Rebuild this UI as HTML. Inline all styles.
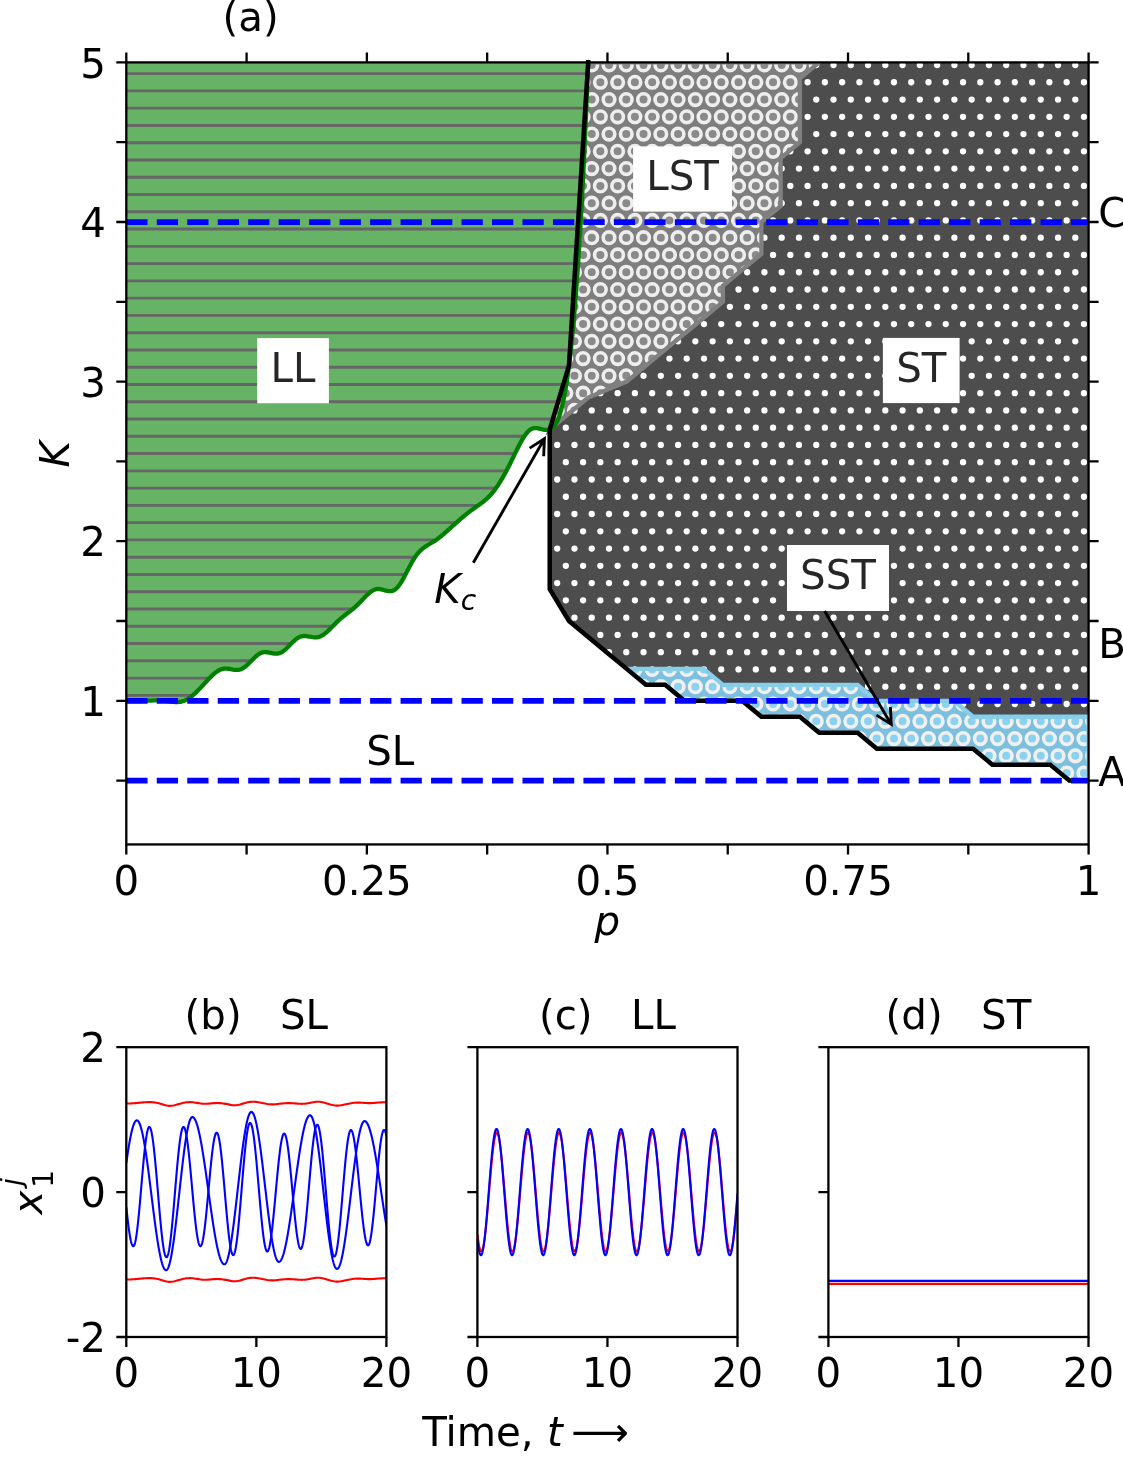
<!DOCTYPE html>
<html><head><meta charset="utf-8"><title>Phase diagram</title>
<style>html,body{margin:0;padding:0;background:#fff}svg{display:block}text{font-family:"DejaVu Sans","Liberation Sans",sans-serif;font-size:40.3px;fill:#000}.i{font-style:italic}.lab{fill:#262626}</style></head><body>
<svg width="1123" height="1465" viewBox="0 0 1123 1465">
<rect width="1123" height="1465" fill="#fff"/>
<defs>
<clipPath id="cLL"><path d="M126.3 62.4 L588.2 62.4 L568.96 365.64 L549.71 429.48 L548.43 429.82 L547.14 429.96 L545.85 429.94 L544.56 429.79 L543.28 429.54 L541.99 429.24 L540.7 428.91 L539.42 428.59 L538.13 428.32 L536.84 428.12 L535.56 428.04 L534.27 428.1 L532.98 428.35 L531.69 428.81 L530.41 429.52 L529.12 430.5 L527.83 431.75 L526.55 433.23 L525.26 434.94 L523.97 436.83 L522.69 438.9 L521.4 441.12 L520.11 443.46 L518.82 445.92 L517.54 448.45 L516.25 451.05 L514.96 453.69 L513.68 456.35 L512.39 459.01 L511.1 461.64 L509.82 464.22 L508.53 466.76 L507.24 469.24 L505.96 471.67 L504.67 474.04 L503.38 476.34 L502.09 478.57 L500.81 480.73 L499.52 482.82 L498.23 484.82 L496.95 486.75 L495.66 488.58 L494.37 490.32 L493.09 491.97 L491.8 493.53 L490.51 494.98 L489.22 496.34 L487.94 497.61 L486.65 498.82 L485.36 499.95 L484.08 501.02 L482.79 502.05 L481.5 503.03 L480.22 503.98 L478.93 504.91 L477.64 505.82 L476.35 506.72 L475.07 507.62 L473.78 508.52 L472.49 509.45 L471.21 510.4 L469.92 511.37 L468.63 512.36 L467.35 513.37 L466.06 514.4 L464.77 515.45 L463.49 516.51 L462.2 517.6 L460.91 518.69 L459.62 519.8 L458.34 520.92 L457.05 522.05 L455.76 523.19 L454.48 524.35 L453.19 525.5 L451.9 526.67 L450.62 527.84 L449.33 529 L448.04 530.16 L446.75 531.31 L445.47 532.45 L444.18 533.56 L442.89 534.66 L441.61 535.73 L440.32 536.78 L439.03 537.79 L437.75 538.76 L436.46 539.7 L435.17 540.58 L433.89 541.42 L432.6 542.22 L431.31 542.98 L430.02 543.73 L428.74 544.49 L427.45 545.26 L426.16 546.07 L424.88 546.94 L423.59 547.87 L422.3 548.9 L421.02 550.02 L419.73 551.27 L418.44 552.65 L417.15 554.18 L415.87 555.89 L414.58 557.78 L413.29 559.86 L412.01 562.09 L410.72 564.44 L409.43 566.88 L408.15 569.36 L406.86 571.86 L405.57 574.35 L404.28 576.78 L403 579.12 L401.71 581.34 L400.42 583.41 L399.14 585.29 L397.85 586.95 L396.56 588.34 L395.28 589.45 L393.99 590.25 L392.7 590.79 L391.42 591.1 L390.13 591.2 L388.84 591.15 L387.55 590.96 L386.27 590.69 L384.98 590.35 L383.69 589.98 L382.41 589.63 L381.12 589.31 L379.83 589.08 L378.55 588.96 L377.26 588.98 L375.97 589.19 L374.68 589.59 L373.4 590.16 L372.11 590.9 L370.82 591.77 L369.54 592.77 L368.25 593.88 L366.96 595.07 L365.68 596.33 L364.39 597.64 L363.1 598.99 L361.81 600.35 L360.53 601.71 L359.24 603.05 L357.95 604.35 L356.67 605.6 L355.38 606.79 L354.09 607.92 L352.81 609.01 L351.52 610.06 L350.23 611.08 L348.95 612.09 L347.66 613.08 L346.37 614.07 L345.08 615.06 L343.8 616.07 L342.51 617.1 L341.22 618.16 L339.94 619.26 L338.65 620.41 L337.36 621.61 L336.08 622.86 L334.79 624.15 L333.5 625.46 L332.21 626.77 L330.93 628.07 L329.64 629.35 L328.35 630.59 L327.07 631.77 L325.78 632.88 L324.49 633.89 L323.21 634.81 L321.92 635.61 L320.63 636.27 L319.34 636.78 L318.06 637.13 L316.77 637.32 L315.48 637.37 L314.2 637.32 L312.91 637.18 L311.62 636.99 L310.34 636.76 L309.05 636.52 L307.76 636.3 L306.48 636.12 L305.19 636.01 L303.9 635.99 L302.61 636.09 L301.33 636.33 L300.04 636.74 L298.75 637.34 L297.47 638.12 L296.18 639.06 L294.89 640.14 L293.61 641.32 L292.32 642.57 L291.03 643.87 L289.74 645.19 L288.46 646.51 L287.17 647.79 L285.88 649.01 L284.6 650.14 L283.31 651.15 L282.02 652.02 L280.74 652.72 L279.45 653.21 L278.16 653.52 L276.88 653.66 L275.59 653.67 L274.3 653.56 L273.01 653.38 L271.73 653.15 L270.44 652.89 L269.15 652.63 L267.87 652.41 L266.58 652.25 L265.29 652.18 L264.01 652.22 L262.72 652.41 L261.43 652.76 L260.14 653.32 L258.86 654.07 L257.57 654.98 L256.28 656.03 L255 657.18 L253.71 658.42 L252.42 659.71 L251.14 661.03 L249.85 662.35 L248.56 663.64 L247.27 664.87 L245.99 666.02 L244.7 667.07 L243.41 667.97 L242.13 668.71 L240.84 669.26 L239.55 669.63 L238.27 669.84 L236.98 669.92 L235.69 669.89 L234.41 669.77 L233.12 669.59 L231.83 669.37 L230.54 669.14 L229.26 668.92 L227.97 668.74 L226.68 668.61 L225.4 668.56 L224.11 668.62 L222.82 668.82 L221.54 669.16 L220.25 669.65 L218.96 670.29 L217.67 671.05 L216.39 671.93 L215.1 672.91 L213.81 673.99 L212.53 675.15 L211.24 676.37 L209.95 677.66 L208.67 679 L207.38 680.37 L206.09 681.77 L204.8 683.17 L203.52 684.58 L202.23 685.98 L200.94 687.37 L199.66 688.73 L198.37 690.05 L197.08 691.34 L195.8 692.59 L194.51 693.78 L193.22 694.92 L191.94 696 L190.65 697 L189.36 697.93 L188.07 698.77 L186.79 699.52 L185.5 700.18 L184.21 700.73 L182.93 701.18 L181.64 701.52 L180.35 701.77 L179.07 701.93 L177.78 702.02 L176.49 702.04 L175.2 702.01 L173.92 701.93 L172.63 701.81 L171.34 701.66 L170.06 701.49 L168.77 701.31 L167.48 701.14 L166.2 700.97 L164.91 700.81 L163.62 700.69 L162.34 700.58 L161.05 700.51 L159.76 700.45 L158.47 700.42 L157.19 700.4 L155.9 700.4 L154.61 700.42 L153.33 700.45 L152.04 700.49 L150.75 700.54 L149.47 700.6 L148.18 700.66 L146.89 700.73 L145.6 700.8 L144.32 700.87 L143.03 700.93 L141.74 701 L140.46 701.05 L139.17 701.1 L137.88 701.15 L136.6 701.18 L135.31 701.19 L134.02 701.2 L132.73 701.18 L131.45 701.15 L130.16 701.1 L128.87 701.02 L127.59 700.92 L126.3 700.8Z"/></clipPath>
<clipPath id="cLST"><path d="M549.71 429.48 L568.96 365.64 L588.2 62.4 L819.16 62.4 L799.91 78.36 L799.91 94.32 L799.91 110.28 L799.91 126.24 L799.91 142.2 L780.66 158.16 L780.66 174.12 L780.66 190.08 L780.66 206.04 L761.42 222 L761.42 237.96 L761.42 253.92 L742.17 269.88 L722.93 285.84 L722.93 301.8 L703.68 317.76 L684.43 333.72 L665.19 349.68 L645.94 365.64 L626.7 381.6 L588.2 397.56 L568.96 413.52 L549.71 429.48Z"/></clipPath>
<clipPath id="cST"><path d="M549.71 429.48 L568.96 413.52 L588.2 397.56 L626.7 381.6 L645.94 365.64 L665.19 349.68 L684.43 333.72 L703.68 317.76 L722.93 301.8 L722.93 285.84 L742.17 269.88 L761.42 253.92 L761.42 237.96 L761.42 222 L780.66 206.04 L780.66 190.08 L780.66 174.12 L780.66 158.16 L799.91 142.2 L799.91 126.24 L799.91 110.28 L799.91 94.32 L799.91 78.36 L819.16 62.4 L1088.6 62.4 L1088.6 716.76 L973.12 716.76 L953.88 700.8 L876.89 700.8 L857.65 684.84 L722.93 684.84 L703.68 668.88 L626.7 668.88 L607.45 652.92 L588.2 636.96 L568.96 621 L549.71 589.08Z"/></clipPath>
<clipPath id="cSST"><path d="M626.7 668.88 L703.68 668.88 L722.93 684.84 L857.65 684.84 L876.89 700.8 L953.88 700.8 L973.12 716.76 L1088.6 716.76 L1088.6 780.6 L1069.35 780.6 L1050.11 764.64 L992.37 764.64 L973.12 748.68 L876.89 748.68 L857.65 732.72 L819.16 732.72 L799.91 716.76 L761.42 716.76 L742.17 700.8 L684.43 700.8 L665.19 684.84 L645.94 684.84 L626.7 668.88Z"/></clipPath>
<clipPath id="cAx"><rect x="126.3" y="62.4" width="962.3" height="782.04"/></clipPath>
<clipPath id="cAx2"><rect x="126.3" y="60" width="962.3" height="784.44"/></clipPath>
</defs>
<g clip-path="url(#cAx)">
<path d="M126.3 62.4 L588.2 62.4 L568.96 365.64 L549.71 429.48 L548.43 429.82 L547.14 429.96 L545.85 429.94 L544.56 429.79 L543.28 429.54 L541.99 429.24 L540.7 428.91 L539.42 428.59 L538.13 428.32 L536.84 428.12 L535.56 428.04 L534.27 428.1 L532.98 428.35 L531.69 428.81 L530.41 429.52 L529.12 430.5 L527.83 431.75 L526.55 433.23 L525.26 434.94 L523.97 436.83 L522.69 438.9 L521.4 441.12 L520.11 443.46 L518.82 445.92 L517.54 448.45 L516.25 451.05 L514.96 453.69 L513.68 456.35 L512.39 459.01 L511.1 461.64 L509.82 464.22 L508.53 466.76 L507.24 469.24 L505.96 471.67 L504.67 474.04 L503.38 476.34 L502.09 478.57 L500.81 480.73 L499.52 482.82 L498.23 484.82 L496.95 486.75 L495.66 488.58 L494.37 490.32 L493.09 491.97 L491.8 493.53 L490.51 494.98 L489.22 496.34 L487.94 497.61 L486.65 498.82 L485.36 499.95 L484.08 501.02 L482.79 502.05 L481.5 503.03 L480.22 503.98 L478.93 504.91 L477.64 505.82 L476.35 506.72 L475.07 507.62 L473.78 508.52 L472.49 509.45 L471.21 510.4 L469.92 511.37 L468.63 512.36 L467.35 513.37 L466.06 514.4 L464.77 515.45 L463.49 516.51 L462.2 517.6 L460.91 518.69 L459.62 519.8 L458.34 520.92 L457.05 522.05 L455.76 523.19 L454.48 524.35 L453.19 525.5 L451.9 526.67 L450.62 527.84 L449.33 529 L448.04 530.16 L446.75 531.31 L445.47 532.45 L444.18 533.56 L442.89 534.66 L441.61 535.73 L440.32 536.78 L439.03 537.79 L437.75 538.76 L436.46 539.7 L435.17 540.58 L433.89 541.42 L432.6 542.22 L431.31 542.98 L430.02 543.73 L428.74 544.49 L427.45 545.26 L426.16 546.07 L424.88 546.94 L423.59 547.87 L422.3 548.9 L421.02 550.02 L419.73 551.27 L418.44 552.65 L417.15 554.18 L415.87 555.89 L414.58 557.78 L413.29 559.86 L412.01 562.09 L410.72 564.44 L409.43 566.88 L408.15 569.36 L406.86 571.86 L405.57 574.35 L404.28 576.78 L403 579.12 L401.71 581.34 L400.42 583.41 L399.14 585.29 L397.85 586.95 L396.56 588.34 L395.28 589.45 L393.99 590.25 L392.7 590.79 L391.42 591.1 L390.13 591.2 L388.84 591.15 L387.55 590.96 L386.27 590.69 L384.98 590.35 L383.69 589.98 L382.41 589.63 L381.12 589.31 L379.83 589.08 L378.55 588.96 L377.26 588.98 L375.97 589.19 L374.68 589.59 L373.4 590.16 L372.11 590.9 L370.82 591.77 L369.54 592.77 L368.25 593.88 L366.96 595.07 L365.68 596.33 L364.39 597.64 L363.1 598.99 L361.81 600.35 L360.53 601.71 L359.24 603.05 L357.95 604.35 L356.67 605.6 L355.38 606.79 L354.09 607.92 L352.81 609.01 L351.52 610.06 L350.23 611.08 L348.95 612.09 L347.66 613.08 L346.37 614.07 L345.08 615.06 L343.8 616.07 L342.51 617.1 L341.22 618.16 L339.94 619.26 L338.65 620.41 L337.36 621.61 L336.08 622.86 L334.79 624.15 L333.5 625.46 L332.21 626.77 L330.93 628.07 L329.64 629.35 L328.35 630.59 L327.07 631.77 L325.78 632.88 L324.49 633.89 L323.21 634.81 L321.92 635.61 L320.63 636.27 L319.34 636.78 L318.06 637.13 L316.77 637.32 L315.48 637.37 L314.2 637.32 L312.91 637.18 L311.62 636.99 L310.34 636.76 L309.05 636.52 L307.76 636.3 L306.48 636.12 L305.19 636.01 L303.9 635.99 L302.61 636.09 L301.33 636.33 L300.04 636.74 L298.75 637.34 L297.47 638.12 L296.18 639.06 L294.89 640.14 L293.61 641.32 L292.32 642.57 L291.03 643.87 L289.74 645.19 L288.46 646.51 L287.17 647.79 L285.88 649.01 L284.6 650.14 L283.31 651.15 L282.02 652.02 L280.74 652.72 L279.45 653.21 L278.16 653.52 L276.88 653.66 L275.59 653.67 L274.3 653.56 L273.01 653.38 L271.73 653.15 L270.44 652.89 L269.15 652.63 L267.87 652.41 L266.58 652.25 L265.29 652.18 L264.01 652.22 L262.72 652.41 L261.43 652.76 L260.14 653.32 L258.86 654.07 L257.57 654.98 L256.28 656.03 L255 657.18 L253.71 658.42 L252.42 659.71 L251.14 661.03 L249.85 662.35 L248.56 663.64 L247.27 664.87 L245.99 666.02 L244.7 667.07 L243.41 667.97 L242.13 668.71 L240.84 669.26 L239.55 669.63 L238.27 669.84 L236.98 669.92 L235.69 669.89 L234.41 669.77 L233.12 669.59 L231.83 669.37 L230.54 669.14 L229.26 668.92 L227.97 668.74 L226.68 668.61 L225.4 668.56 L224.11 668.62 L222.82 668.82 L221.54 669.16 L220.25 669.65 L218.96 670.29 L217.67 671.05 L216.39 671.93 L215.1 672.91 L213.81 673.99 L212.53 675.15 L211.24 676.37 L209.95 677.66 L208.67 679 L207.38 680.37 L206.09 681.77 L204.8 683.17 L203.52 684.58 L202.23 685.98 L200.94 687.37 L199.66 688.73 L198.37 690.05 L197.08 691.34 L195.8 692.59 L194.51 693.78 L193.22 694.92 L191.94 696 L190.65 697 L189.36 697.93 L188.07 698.77 L186.79 699.52 L185.5 700.18 L184.21 700.73 L182.93 701.18 L181.64 701.52 L180.35 701.77 L179.07 701.93 L177.78 702.02 L176.49 702.04 L175.2 702.01 L173.92 701.93 L172.63 701.81 L171.34 701.66 L170.06 701.49 L168.77 701.31 L167.48 701.14 L166.2 700.97 L164.91 700.81 L163.62 700.69 L162.34 700.58 L161.05 700.51 L159.76 700.45 L158.47 700.42 L157.19 700.4 L155.9 700.4 L154.61 700.42 L153.33 700.45 L152.04 700.49 L150.75 700.54 L149.47 700.6 L148.18 700.66 L146.89 700.73 L145.6 700.8 L144.32 700.87 L143.03 700.93 L141.74 701 L140.46 701.05 L139.17 701.1 L137.88 701.15 L136.6 701.18 L135.31 701.19 L134.02 701.2 L132.73 701.18 L131.45 701.15 L130.16 701.1 L128.87 701.02 L127.59 700.92 L126.3 700.8Z" fill="#66b366"/>
<path d="M126.3 73.64H607.45M126.3 90.91H607.45M126.3 108.17H607.45M126.3 125.44H607.45M126.3 142.72H607.45M126.3 159.99H607.45M126.3 177.26H607.45M126.3 194.53H607.45M126.3 211.8H607.45M126.3 229.07H607.45M126.3 246.34H607.45M126.3 263.61H607.45M126.3 280.88H607.45M126.3 298.15H607.45M126.3 315.42H607.45M126.3 332.69H607.45M126.3 349.95H607.45M126.3 367.22H607.45M126.3 384.49H607.45M126.3 401.76H607.45M126.3 419.03H607.45M126.3 436.3H607.45M126.3 453.57H607.45M126.3 470.84H607.45M126.3 488.11H607.45M126.3 505.38H607.45M126.3 522.65H607.45M126.3 539.92H607.45M126.3 557.19H607.45M126.3 574.46H607.45M126.3 591.73H607.45M126.3 609H607.45M126.3 626.27H607.45M126.3 643.54H607.45M126.3 660.81H607.45M126.3 678.08H607.45M126.3 695.35H607.45M126.3 712.62H607.45" stroke="#666" stroke-width="2.9" fill="none" clip-path="url(#cLL)"/>
<path d="M549.71 429.48 L568.96 413.52 L588.2 397.56 L626.7 381.6 L645.94 365.64 L665.19 349.68 L684.43 333.72 L703.68 317.76 L722.93 301.8 L722.93 285.84 L742.17 269.88 L761.42 253.92 L761.42 237.96 L761.42 222 L780.66 206.04 L780.66 190.08 L780.66 174.12 L780.66 158.16 L799.91 142.2 L799.91 126.24 L799.91 110.28 L799.91 94.32 L799.91 78.36 L819.16 62.4 L1088.6 62.4 L1088.6 716.76 L973.12 716.76 L953.88 700.8 L876.89 700.8 L857.65 684.84 L722.93 684.84 L703.68 668.88 L626.7 668.88 L607.45 652.92 L588.2 636.96 L568.96 621 L549.71 589.08Z" fill="#4d4d4d"/>
<g clip-path="url(#cST)"><path d="M522.65 30.46H1109.83M531.28 47.73H1118.46M522.65 65H1109.83M531.28 82.27H1118.46M522.65 99.54H1109.83M531.28 116.81H1118.46M522.65 134.08H1109.83M531.28 151.35H1118.46M522.65 168.62H1109.83M531.28 185.89H1118.46M522.65 203.16H1109.83M531.28 220.43H1118.46M522.65 237.7H1109.83M531.28 254.97H1118.46M522.65 272.24H1109.83M531.28 289.51H1118.46M522.65 306.78H1109.83M531.28 324.05H1118.46M522.65 341.32H1109.83M531.28 358.59H1118.46M522.65 375.86H1109.83M531.28 393.13H1118.46M522.65 410.4H1109.83M531.28 427.67H1118.46M522.65 444.94H1109.83M531.28 462.21H1118.46M522.65 479.48H1109.83M531.28 496.75H1118.46M522.65 514.02H1109.83M531.28 531.29H1118.46M522.65 548.56H1109.83M531.28 565.83H1118.46M522.65 583.1H1109.83M531.28 600.37H1118.46M522.65 617.64H1109.83M531.28 634.91H1118.46M522.65 652.18H1109.83M531.28 669.45H1118.46M522.65 686.72H1109.83M531.28 703.99H1118.46M522.65 721.26H1109.83M531.28 738.53H1118.46" stroke="#fff" stroke-width="6.3" stroke-linecap="round" stroke-dasharray="0 17.27" fill="none"/></g>
<path d="M549.71 429.48 L568.96 365.64 L588.2 62.4 L819.16 62.4 L799.91 78.36 L799.91 94.32 L799.91 110.28 L799.91 126.24 L799.91 142.2 L780.66 158.16 L780.66 174.12 L780.66 190.08 L780.66 206.04 L761.42 222 L761.42 237.96 L761.42 253.92 L742.17 269.88 L722.93 285.84 L722.93 301.8 L703.68 317.76 L684.43 333.72 L665.19 349.68 L645.94 365.64 L626.7 381.6 L588.2 397.56 L568.96 413.52 L549.71 429.48Z" fill="#7e7e7e"/>
<g clip-path="url(#cLST)"><path d="M522.65 30.46H850.78M531.28 47.73H842.14M522.65 65H850.78M531.28 82.27H842.14M522.65 99.54H850.78M531.28 116.81H842.14M522.65 134.08H850.78M531.28 151.35H842.14M522.65 168.62H850.78M531.28 185.89H842.14M522.65 203.16H850.78M531.28 220.43H842.14M522.65 237.7H850.78M531.28 254.97H842.14M522.65 272.24H850.78M531.28 289.51H842.14M522.65 306.78H850.78M531.28 324.05H842.14M522.65 341.32H850.78M531.28 358.59H842.14M522.65 375.86H850.78M531.28 393.13H842.14M522.65 410.4H850.78M531.28 427.67H842.14M522.65 444.94H850.78M531.28 462.21H842.14" stroke="#eeeeee" stroke-width="15.2" stroke-linecap="round" stroke-dasharray="0 17.27" fill="none"/><path d="M522.65 30.46H850.78M531.28 47.73H842.14M522.65 65H850.78M531.28 82.27H842.14M522.65 99.54H850.78M531.28 116.81H842.14M522.65 134.08H850.78M531.28 151.35H842.14M522.65 168.62H850.78M531.28 185.89H842.14M522.65 203.16H850.78M531.28 220.43H842.14M522.65 237.7H850.78M531.28 254.97H842.14M522.65 272.24H850.78M531.28 289.51H842.14M522.65 306.78H850.78M531.28 324.05H842.14M522.65 341.32H850.78M531.28 358.59H842.14M522.65 375.86H850.78M531.28 393.13H842.14M522.65 410.4H850.78M531.28 427.67H842.14M522.65 444.94H850.78M531.28 462.21H842.14" stroke="#8a8a8a" stroke-width="8" stroke-linecap="round" stroke-dasharray="0 17.27" fill="none"/></g>
<path d="M549.71 429.48 L568.96 365.64 L588.2 62.4 L819.16 62.4 L799.91 78.36 L799.91 94.32 L799.91 110.28 L799.91 126.24 L799.91 142.2 L780.66 158.16 L780.66 174.12 L780.66 190.08 L780.66 206.04 L761.42 222 L761.42 237.96 L761.42 253.92 L742.17 269.88 L722.93 285.84 L722.93 301.8 L703.68 317.76 L684.43 333.72 L665.19 349.68 L645.94 365.64 L626.7 381.6 L588.2 397.56 L568.96 413.52 L549.71 429.48Z" fill="none" stroke="#808080" stroke-width="4.3" stroke-linejoin="miter"/>
<path d="M626.7 668.88 L703.68 668.88 L722.93 684.84 L857.65 684.84 L876.89 700.8 L953.88 700.8 L973.12 716.76 L1088.6 716.76 L1088.6 780.6 L1069.35 780.6 L1050.11 764.64 L992.37 764.64 L973.12 748.68 L876.89 748.68 L857.65 732.72 L819.16 732.72 L799.91 716.76 L761.42 716.76 L742.17 700.8 L684.43 700.8 L665.19 684.84 L645.94 684.84 L626.7 668.88Z" fill="#7dc0de"/>
<g clip-path="url(#cSST)"><path d="M600.37 634.91H1118.47M609 652.18H1109.83M600.37 669.45H1118.47M609 686.72H1109.83M600.37 703.99H1118.47M609 721.26H1109.83M600.37 738.53H1118.47M609 755.8H1109.83M600.37 773.07H1118.47M609 790.34H1109.83M600.37 807.61H1118.47" stroke="#f0f0f0" stroke-width="15.2" stroke-linecap="round" stroke-dasharray="0 17.27" fill="none"/><path d="M600.37 634.91H1118.47M609 652.18H1109.83M600.37 669.45H1118.47M609 686.72H1109.83M600.37 703.99H1118.47M609 721.26H1109.83M600.37 738.53H1118.47M609 755.8H1109.83M600.37 773.07H1118.47M609 790.34H1109.83M600.37 807.61H1118.47" stroke="#8cd2ee" stroke-width="8" stroke-linecap="round" stroke-dasharray="0 17.27" fill="none"/></g>
<path d="M626.7 668.88 L703.68 668.88 L722.93 684.84 L857.65 684.84 L876.89 700.8 L953.88 700.8 L973.12 716.76 L1088.6 716.76 L1088.6 780.6 L1069.35 780.6 L1050.11 764.64 L992.37 764.64 L973.12 748.68 L876.89 748.68 L857.65 732.72 L819.16 732.72 L799.91 716.76 L761.42 716.76 L742.17 700.8 L684.43 700.8 L665.19 684.84 L645.94 684.84 L626.7 668.88Z" fill="none" stroke="#87ceeb" stroke-width="4.3" stroke-linejoin="miter"/>
<path d="M126.3 700.8 L127.59 700.92 L128.87 701.02 L130.16 701.1 L131.45 701.15 L132.73 701.18 L134.02 701.2 L135.31 701.19 L136.6 701.18 L137.88 701.15 L139.17 701.1 L140.46 701.05 L141.74 701 L143.03 700.93 L144.32 700.87 L145.6 700.8 L146.89 700.73 L148.18 700.66 L149.47 700.6 L150.75 700.54 L152.04 700.49 L153.33 700.45 L154.61 700.42 L155.9 700.4 L157.19 700.4 L158.47 700.42 L159.76 700.45 L161.05 700.51 L162.34 700.58 L163.62 700.69 L164.91 700.81 L166.2 700.97 L167.48 701.14 L168.77 701.31 L170.06 701.49 L171.34 701.66 L172.63 701.81 L173.92 701.93 L175.2 702.01 L176.49 702.04 L177.78 702.02 L179.07 701.93 L180.35 701.77 L181.64 701.52 L182.93 701.18 L184.21 700.73 L185.5 700.18 L186.79 699.52 L188.07 698.77 L189.36 697.93 L190.65 697 L191.94 696 L193.22 694.92 L194.51 693.78 L195.8 692.59 L197.08 691.34 L198.37 690.05 L199.66 688.73 L200.94 687.37 L202.23 685.98 L203.52 684.58 L204.8 683.17 L206.09 681.77 L207.38 680.37 L208.67 679 L209.95 677.66 L211.24 676.37 L212.53 675.15 L213.81 673.99 L215.1 672.91 L216.39 671.93 L217.67 671.05 L218.96 670.29 L220.25 669.65 L221.54 669.16 L222.82 668.82 L224.11 668.62 L225.4 668.56 L226.68 668.61 L227.97 668.74 L229.26 668.92 L230.54 669.14 L231.83 669.37 L233.12 669.59 L234.41 669.77 L235.69 669.89 L236.98 669.92 L238.27 669.84 L239.55 669.63 L240.84 669.26 L242.13 668.71 L243.41 667.97 L244.7 667.07 L245.99 666.02 L247.27 664.87 L248.56 663.64 L249.85 662.35 L251.14 661.03 L252.42 659.71 L253.71 658.42 L255 657.18 L256.28 656.03 L257.57 654.98 L258.86 654.07 L260.14 653.32 L261.43 652.76 L262.72 652.41 L264.01 652.22 L265.29 652.18 L266.58 652.25 L267.87 652.41 L269.15 652.63 L270.44 652.89 L271.73 653.15 L273.01 653.38 L274.3 653.56 L275.59 653.67 L276.88 653.66 L278.16 653.52 L279.45 653.21 L280.74 652.72 L282.02 652.02 L283.31 651.15 L284.6 650.14 L285.88 649.01 L287.17 647.79 L288.46 646.51 L289.74 645.19 L291.03 643.87 L292.32 642.57 L293.61 641.32 L294.89 640.14 L296.18 639.06 L297.47 638.12 L298.75 637.34 L300.04 636.74 L301.33 636.33 L302.61 636.09 L303.9 635.99 L305.19 636.01 L306.48 636.12 L307.76 636.3 L309.05 636.52 L310.34 636.76 L311.62 636.99 L312.91 637.18 L314.2 637.32 L315.48 637.37 L316.77 637.32 L318.06 637.13 L319.34 636.78 L320.63 636.27 L321.92 635.61 L323.21 634.81 L324.49 633.89 L325.78 632.88 L327.07 631.77 L328.35 630.59 L329.64 629.35 L330.93 628.07 L332.21 626.77 L333.5 625.46 L334.79 624.15 L336.08 622.86 L337.36 621.61 L338.65 620.41 L339.94 619.26 L341.22 618.16 L342.51 617.1 L343.8 616.07 L345.08 615.06 L346.37 614.07 L347.66 613.08 L348.95 612.09 L350.23 611.08 L351.52 610.06 L352.81 609.01 L354.09 607.92 L355.38 606.79 L356.67 605.6 L357.95 604.35 L359.24 603.05 L360.53 601.71 L361.81 600.35 L363.1 598.99 L364.39 597.64 L365.68 596.33 L366.96 595.07 L368.25 593.88 L369.54 592.77 L370.82 591.77 L372.11 590.9 L373.4 590.16 L374.68 589.59 L375.97 589.19 L377.26 588.98 L378.55 588.96 L379.83 589.08 L381.12 589.31 L382.41 589.63 L383.69 589.98 L384.98 590.35 L386.27 590.69 L387.55 590.96 L388.84 591.15 L390.13 591.2 L391.42 591.1 L392.7 590.79 L393.99 590.25 L395.28 589.45 L396.56 588.34 L397.85 586.95 L399.14 585.29 L400.42 583.41 L401.71 581.34 L403 579.12 L404.28 576.78 L405.57 574.35 L406.86 571.86 L408.15 569.36 L409.43 566.88 L410.72 564.44 L412.01 562.09 L413.29 559.86 L414.58 557.78 L415.87 555.89 L417.15 554.18 L418.44 552.65 L419.73 551.27 L421.02 550.02 L422.3 548.9 L423.59 547.87 L424.88 546.94 L426.16 546.07 L427.45 545.26 L428.74 544.49 L430.02 543.73 L431.31 542.98 L432.6 542.22 L433.89 541.42 L435.17 540.58 L436.46 539.7 L437.75 538.76 L439.03 537.79 L440.32 536.78 L441.61 535.73 L442.89 534.66 L444.18 533.56 L445.47 532.45 L446.75 531.31 L448.04 530.16 L449.33 529 L450.62 527.84 L451.9 526.67 L453.19 525.5 L454.48 524.35 L455.76 523.19 L457.05 522.05 L458.34 520.92 L459.62 519.8 L460.91 518.69 L462.2 517.6 L463.49 516.51 L464.77 515.45 L466.06 514.4 L467.35 513.37 L468.63 512.36 L469.92 511.37 L471.21 510.4 L472.49 509.45 L473.78 508.52 L475.07 507.62 L476.35 506.72 L477.64 505.82 L478.93 504.91 L480.22 503.98 L481.5 503.03 L482.79 502.05 L484.08 501.02 L485.36 499.95 L486.65 498.82 L487.94 497.61 L489.22 496.34 L490.51 494.98 L491.8 493.53 L493.09 491.97 L494.37 490.32 L495.66 488.58 L496.95 486.75 L498.23 484.82 L499.52 482.82 L500.81 480.73 L502.09 478.57 L503.38 476.34 L504.67 474.04 L505.96 471.67 L507.24 469.24 L508.53 466.76 L509.82 464.22 L511.1 461.64 L512.39 459.01 L513.68 456.35 L514.96 453.69 L516.25 451.05 L517.54 448.45 L518.82 445.92 L520.11 443.46 L521.4 441.12 L522.69 438.9 L523.97 436.83 L525.26 434.94 L526.55 433.23 L527.83 431.75 L529.12 430.5 L530.41 429.52 L531.69 428.81 L532.98 428.35 L534.27 428.1 L535.56 428.04 L536.84 428.12 L538.13 428.32 L539.42 428.59 L540.7 428.91 L541.99 429.24 L543.28 429.54 L544.56 429.79 L545.85 429.94 L547.14 429.96 L548.43 429.82 L549.71 429.48 L550.36 429.22 L551.02 428.9 L551.67 428.5 L552.32 428.02 L552.97 427.45 L553.63 426.79 L554.28 426.02 L554.93 425.14 L555.58 424.14 L556.24 423.02 L556.89 421.77 L557.54 420.37 L558.19 418.83 L558.85 417.13 L559.5 415.28 L560.15 413.25 L560.8 411.05 L561.46 408.66 L562.11 406.08 L562.76 403.31 L563.41 400.32 L564.06 397.13 L564.72 393.71 L565.37 390.07 L566.02 386.19 L566.67 382.07 L567.33 377.7 L567.98 373.08 L568.63 368.19 L569.28 363.02 L569.94 357.58 L570.59 351.86 L571.24 345.84 L571.89 339.52 L572.55 332.89 L573.2 325.94 L573.85 318.68 L574.5 311.08 L575.16 303.15 L575.81 294.87 L576.46 286.24 L577.11 277.25 L577.77 267.89 L578.42 258.16 L579.07 248.05 L579.72 237.56 L580.38 226.66 L581.03 215.36 L581.68 203.66 L582.33 191.53 L582.98 178.98 L583.64 166 L584.29 152.57 L584.94 138.7 L585.59 124.38 L586.25 109.6 L586.9 94.34 L587.55 78.61 L588.2 62.4" fill="none" stroke="#008000" stroke-width="4.3" stroke-linejoin="round"/>
</g>
<path d="M588.26 56.4 L588.2 62.4 L568.96 365.64 L549.71 429.48 L549.71 589.08 L568.96 621 L588.2 636.96 L607.45 652.92 L626.7 668.88 L645.94 684.84 L665.19 684.84 L684.43 700.8 L742.17 700.8 L761.42 716.76 L799.91 716.76 L819.16 732.72 L857.65 732.72 L876.89 748.68 L973.12 748.68 L992.37 764.64 L1050.11 764.64 L1069.35 780.6 L1088.6 780.6" fill="none" stroke="#000" stroke-width="4.5" stroke-linejoin="miter" stroke-linecap="butt" clip-path="url(#cAx2)"/>
<g clip-path="url(#cAx)">
<path d="M126.3 780.6H1088.6" stroke="#0000ff" stroke-width="5.75" stroke-dasharray="21.275 9.2" fill="none"/>
<path d="M126.3 700.8H1088.6" stroke="#0000ff" stroke-width="5.75" stroke-dasharray="21.275 9.2" fill="none"/>
<path d="M126.3 222H1088.6" stroke="#0000ff" stroke-width="5.75" stroke-dasharray="21.275 9.2" fill="none"/>
</g>
<rect x="257.2" y="338.1" width="71.7" height="65.2" fill="#fff"/>
<text class="lab" x="293.05" y="381.9" text-anchor="middle">LL</text>
<rect x="633.1" y="146.4" width="98.9" height="65.2" fill="#fff"/>
<text class="lab" x="682.55" y="190.2" text-anchor="middle">LST</text>
<rect x="882.9" y="337.9" width="76.7" height="65.2" fill="#fff"/>
<text class="lab" x="921.25" y="381.7" text-anchor="middle">ST</text>
<rect x="787" y="545" width="102" height="66" fill="#fff"/>
<text class="lab" x="838" y="588.8" text-anchor="middle">SST</text>
<text x="390.2" y="764.8" text-anchor="middle">SL</text>
<path d="M473.3 562.7L544.4 438.7M543.69 456.19L544.4 438.7L529.67 448.15" fill="none" stroke="#000" stroke-width="2.9" stroke-linecap="butt" stroke-linejoin="miter"/>
<path d="M824.6 611L891.3 724.4M876.46 715.12L891.3 724.4L890.4 706.92" fill="none" stroke="#000" stroke-width="2.9" stroke-linecap="butt" stroke-linejoin="miter"/>
<text x="434.3" y="603.3"><tspan class="i">K</tspan><tspan class="i" style="font-size:28.2px" dy="6.5">c</tspan></text>
<rect x="126.3" y="62.4" width="962.3" height="782.04" fill="none" stroke="#000" stroke-width="2.3"/>
<path d="M126.3 844.44v10M126.3 62.4v-10M246.59 844.44v10M246.59 62.4v-10M366.88 844.44v10M366.88 62.4v-10M487.16 844.44v10M487.16 62.4v-10M607.45 844.44v10M607.45 62.4v-10M727.74 844.44v10M727.74 62.4v-10M848.02 844.44v10M848.02 62.4v-10M968.31 844.44v10M968.31 62.4v-10M1088.6 844.44v10M1088.6 62.4v-10M126.3 780.6h-10M1088.6 780.6h10M126.3 700.8h-10M1088.6 700.8h10M126.3 621h-10M1088.6 621h10M126.3 541.2h-10M1088.6 541.2h10M126.3 461.4h-10M1088.6 461.4h10M126.3 381.6h-10M1088.6 381.6h10M126.3 301.8h-10M1088.6 301.8h10M126.3 222h-10M1088.6 222h10M126.3 142.2h-10M1088.6 142.2h10M126.3 62.4h-10M1088.6 62.4h10" stroke="#000" stroke-width="2.3" fill="none"/>
<text x="126.3" y="894.6" text-anchor="middle">0</text>
<text x="366.88" y="894.6" text-anchor="middle">0.25</text>
<text x="607.45" y="894.6" text-anchor="middle">0.5</text>
<text x="848.02" y="894.6" text-anchor="middle">0.75</text>
<text x="1088.6" y="894.6" text-anchor="middle">1</text>
<text x="105.9" y="716" text-anchor="end">1</text>
<text x="105.9" y="556.4" text-anchor="end">2</text>
<text x="105.9" y="396.8" text-anchor="end">3</text>
<text x="105.9" y="237.2" text-anchor="end">4</text>
<text x="105.9" y="77.6" text-anchor="end">5</text>
<text class="i" x="607.4" y="934.7" text-anchor="middle">p</text>
<text class="i" transform="translate(69.4 454.4) rotate(-90)" text-anchor="middle">K</text>
<text x="250.6" y="30.7" text-anchor="middle">(a)</text>
<text x="1098.3" y="226.8">C</text>
<text x="1098.3" y="658.2">B</text>
<text x="1098.3" y="785.7">A</text>
<clipPath id="cs0"><rect x="126.3" y="1047.2" width="260.1" height="289.8"/></clipPath>
<g clip-path="url(#cs0)" fill="none" stroke-width="2.1" stroke-linejoin="round">
<path d="M126.3 1103.5 L127.61 1103.5 L128.91 1103.47 L130.22 1103.43 L131.53 1103.38 L132.84 1103.31 L134.14 1103.22 L135.45 1103.12 L136.76 1103.01 L138.06 1102.89 L139.37 1102.77 L140.68 1102.63 L141.98 1102.5 L143.29 1102.38 L144.6 1102.28 L145.91 1102.19 L147.21 1102.12 L148.52 1102.09 L149.83 1102.09 L151.13 1102.14 L152.44 1102.22 L153.75 1102.35 L155.05 1102.53 L156.36 1102.75 L157.67 1103.02 L158.98 1103.33 L160.28 1103.68 L161.59 1104.07 L162.9 1104.48 L164.2 1104.88 L165.51 1105.24 L166.82 1105.53 L168.13 1105.74 L169.43 1105.83 L170.74 1105.8 L172.05 1105.67 L173.35 1105.46 L174.66 1105.18 L175.97 1104.85 L177.27 1104.49 L178.58 1104.12 L179.89 1103.75 L181.2 1103.4 L182.5 1103.07 L183.81 1102.77 L185.12 1102.52 L186.42 1102.32 L187.73 1102.18 L189.04 1102.1 L190.34 1102.11 L191.65 1102.18 L192.96 1102.31 L194.27 1102.47 L195.57 1102.67 L196.88 1102.88 L198.19 1103.09 L199.49 1103.3 L200.8 1103.48 L202.11 1103.63 L203.42 1103.74 L204.72 1103.79 L206.03 1103.79 L207.34 1103.73 L208.64 1103.62 L209.95 1103.5 L211.26 1103.37 L212.56 1103.25 L213.87 1103.16 L215.18 1103.09 L216.49 1103.05 L217.79 1103.05 L219.1 1103.09 L220.41 1103.17 L221.71 1103.29 L223.02 1103.44 L224.33 1103.63 L225.63 1103.85 L226.94 1104.09 L228.25 1104.35 L229.56 1104.62 L230.86 1104.88 L232.17 1105.09 L233.48 1105.25 L234.78 1105.31 L236.09 1105.26 L237.4 1105.09 L238.71 1104.83 L240.01 1104.5 L241.32 1104.12 L242.63 1103.72 L243.93 1103.32 L245.24 1102.94 L246.55 1102.59 L247.85 1102.28 L249.16 1102.02 L250.47 1101.83 L251.78 1101.72 L253.08 1101.69 L254.39 1101.74 L255.7 1101.86 L257 1102.03 L258.31 1102.25 L259.62 1102.5 L260.92 1102.76 L262.23 1103.04 L263.54 1103.31 L264.85 1103.56 L266.15 1103.8 L267.46 1104 L268.77 1104.17 L270.07 1104.3 L271.38 1104.38 L272.69 1104.4 L273.99 1104.37 L275.3 1104.28 L276.61 1104.15 L277.92 1103.99 L279.22 1103.83 L280.53 1103.66 L281.84 1103.5 L283.14 1103.37 L284.45 1103.26 L285.76 1103.18 L287.07 1103.12 L288.37 1103.1 L289.68 1103.11 L290.99 1103.15 L292.29 1103.22 L293.6 1103.31 L294.91 1103.41 L296.21 1103.52 L297.52 1103.63 L298.83 1103.73 L300.14 1103.8 L301.44 1103.84 L302.75 1103.82 L304.06 1103.74 L305.36 1103.6 L306.67 1103.42 L307.98 1103.19 L309.28 1102.94 L310.59 1102.68 L311.9 1102.42 L313.21 1102.17 L314.51 1101.96 L315.82 1101.8 L317.13 1101.71 L318.43 1101.7 L319.74 1101.8 L321.05 1101.98 L322.36 1102.23 L323.66 1102.55 L324.97 1102.9 L326.28 1103.28 L327.58 1103.67 L328.89 1104.07 L330.2 1104.44 L331.5 1104.78 L332.81 1105.08 L334.12 1105.33 L335.43 1105.5 L336.73 1105.59 L338.04 1105.59 L339.35 1105.5 L340.65 1105.33 L341.96 1105.11 L343.27 1104.85 L344.57 1104.56 L345.88 1104.26 L347.19 1103.96 L348.5 1103.67 L349.8 1103.41 L351.11 1103.17 L352.42 1102.97 L353.72 1102.8 L355.03 1102.68 L356.34 1102.61 L357.65 1102.58 L358.95 1102.6 L360.26 1102.66 L361.57 1102.74 L362.87 1102.82 L364.18 1102.91 L365.49 1102.99 L366.79 1103.05 L368.1 1103.1 L369.41 1103.11 L370.72 1103.1 L372.02 1103.05 L373.33 1102.98 L374.64 1102.88 L375.94 1102.77 L377.25 1102.66 L378.56 1102.55 L379.86 1102.46 L381.17 1102.37 L382.48 1102.3 L383.79 1102.24 L385.09 1102.21 L386.4 1102.2" stroke="#ff0000"/>
<path d="M126.3 1279.5 L127.61 1279.5 L128.91 1279.47 L130.22 1279.43 L131.53 1279.38 L132.84 1279.31 L134.14 1279.22 L135.45 1279.12 L136.76 1279.01 L138.06 1278.89 L139.37 1278.77 L140.68 1278.63 L141.98 1278.5 L143.29 1278.38 L144.6 1278.28 L145.91 1278.19 L147.21 1278.12 L148.52 1278.09 L149.83 1278.09 L151.13 1278.14 L152.44 1278.22 L153.75 1278.35 L155.05 1278.53 L156.36 1278.75 L157.67 1279.02 L158.98 1279.33 L160.28 1279.68 L161.59 1280.07 L162.9 1280.48 L164.2 1280.88 L165.51 1281.24 L166.82 1281.53 L168.13 1281.74 L169.43 1281.83 L170.74 1281.8 L172.05 1281.67 L173.35 1281.46 L174.66 1281.18 L175.97 1280.85 L177.27 1280.49 L178.58 1280.12 L179.89 1279.75 L181.2 1279.4 L182.5 1279.07 L183.81 1278.77 L185.12 1278.52 L186.42 1278.32 L187.73 1278.18 L189.04 1278.1 L190.34 1278.11 L191.65 1278.18 L192.96 1278.31 L194.27 1278.47 L195.57 1278.67 L196.88 1278.88 L198.19 1279.09 L199.49 1279.3 L200.8 1279.48 L202.11 1279.63 L203.42 1279.74 L204.72 1279.79 L206.03 1279.79 L207.34 1279.73 L208.64 1279.62 L209.95 1279.5 L211.26 1279.37 L212.56 1279.25 L213.87 1279.16 L215.18 1279.09 L216.49 1279.05 L217.79 1279.05 L219.1 1279.09 L220.41 1279.17 L221.71 1279.29 L223.02 1279.44 L224.33 1279.63 L225.63 1279.85 L226.94 1280.09 L228.25 1280.35 L229.56 1280.62 L230.86 1280.88 L232.17 1281.09 L233.48 1281.25 L234.78 1281.31 L236.09 1281.26 L237.4 1281.09 L238.71 1280.83 L240.01 1280.5 L241.32 1280.12 L242.63 1279.72 L243.93 1279.32 L245.24 1278.94 L246.55 1278.59 L247.85 1278.28 L249.16 1278.02 L250.47 1277.83 L251.78 1277.72 L253.08 1277.69 L254.39 1277.74 L255.7 1277.86 L257 1278.03 L258.31 1278.25 L259.62 1278.5 L260.92 1278.76 L262.23 1279.04 L263.54 1279.31 L264.85 1279.56 L266.15 1279.8 L267.46 1280 L268.77 1280.17 L270.07 1280.3 L271.38 1280.38 L272.69 1280.4 L273.99 1280.37 L275.3 1280.28 L276.61 1280.15 L277.92 1279.99 L279.22 1279.83 L280.53 1279.66 L281.84 1279.5 L283.14 1279.37 L284.45 1279.26 L285.76 1279.18 L287.07 1279.12 L288.37 1279.1 L289.68 1279.11 L290.99 1279.15 L292.29 1279.22 L293.6 1279.31 L294.91 1279.41 L296.21 1279.52 L297.52 1279.63 L298.83 1279.73 L300.14 1279.8 L301.44 1279.84 L302.75 1279.82 L304.06 1279.74 L305.36 1279.6 L306.67 1279.42 L307.98 1279.19 L309.28 1278.94 L310.59 1278.68 L311.9 1278.42 L313.21 1278.17 L314.51 1277.96 L315.82 1277.8 L317.13 1277.71 L318.43 1277.7 L319.74 1277.8 L321.05 1277.98 L322.36 1278.23 L323.66 1278.55 L324.97 1278.9 L326.28 1279.28 L327.58 1279.67 L328.89 1280.07 L330.2 1280.44 L331.5 1280.78 L332.81 1281.08 L334.12 1281.33 L335.43 1281.5 L336.73 1281.59 L338.04 1281.59 L339.35 1281.5 L340.65 1281.33 L341.96 1281.11 L343.27 1280.85 L344.57 1280.56 L345.88 1280.26 L347.19 1279.96 L348.5 1279.67 L349.8 1279.41 L351.11 1279.17 L352.42 1278.97 L353.72 1278.8 L355.03 1278.68 L356.34 1278.61 L357.65 1278.58 L358.95 1278.6 L360.26 1278.66 L361.57 1278.74 L362.87 1278.82 L364.18 1278.91 L365.49 1278.99 L366.79 1279.05 L368.1 1279.1 L369.41 1279.11 L370.72 1279.1 L372.02 1279.05 L373.33 1278.98 L374.64 1278.88 L375.94 1278.77 L377.25 1278.66 L378.56 1278.55 L379.86 1278.46 L381.17 1278.37 L382.48 1278.3 L383.79 1278.24 L385.09 1278.21 L386.4 1278.2" stroke="#ff0000"/>
<path d="M126.3 1163.11 L126.63 1160.79 L126.95 1158.51 L127.28 1156.27 L127.6 1154.08 L127.93 1151.93 L128.25 1149.84 L128.58 1147.8 L128.9 1145.82 L129.23 1143.9 L129.55 1142.03 L129.88 1140.24 L130.2 1138.5 L130.53 1136.84 L130.85 1135.25 L131.18 1133.72 L131.5 1132.28 L131.83 1130.9 L132.15 1129.61 L132.48 1128.4 L132.8 1127.26 L133.13 1126.21 L133.45 1125.24 L133.78 1124.36 L134.1 1123.56 L134.43 1122.85 L134.75 1122.23 L135.08 1121.7 L135.4 1121.25 L135.73 1120.9 L136.05 1120.64 L136.38 1120.46 L136.7 1120.38 L137.03 1120.39 L137.35 1120.49 L137.68 1120.68 L138 1120.97 L138.33 1121.34 L138.65 1121.8 L138.98 1122.35 L139.31 1123 L139.63 1123.72 L139.96 1124.54 L140.28 1125.44 L140.61 1126.43 L140.93 1127.5 L141.26 1128.66 L141.58 1129.89 L141.91 1131.21 L142.23 1132.6 L142.56 1134.07 L142.88 1135.62 L143.21 1137.23 L143.53 1138.92 L143.86 1140.68 L144.18 1142.5 L144.51 1144.39 L144.83 1146.34 L145.16 1148.35 L145.48 1150.41 L145.81 1152.53 L146.13 1154.71 L146.46 1156.93 L146.78 1159.2 L147.11 1161.51 L147.43 1163.87 L147.76 1166.26 L148.08 1168.69 L148.41 1171.15 L148.73 1173.64 L149.06 1176.15 L149.38 1178.69 L149.71 1181.25 L150.03 1183.83 L150.36 1186.42 L150.68 1189.02 L151.01 1191.63 L151.33 1194.24 L151.66 1196.86 L151.98 1199.47 L152.31 1202.08 L152.64 1204.68 L152.96 1207.27 L153.29 1209.84 L153.61 1212.39 L153.94 1214.93 L154.26 1217.44 L154.59 1219.92 L154.91 1222.38 L155.24 1224.8 L155.56 1227.18 L155.89 1229.53 L156.21 1231.83 L156.54 1234.09 L156.86 1236.31 L157.19 1238.47 L157.51 1240.58 L157.84 1242.64 L158.16 1244.63 L158.49 1246.57 L158.81 1248.44 L159.14 1250.25 L159.46 1252 L159.79 1253.67 L160.11 1255.27 L160.44 1256.8 L160.76 1258.26 L161.09 1259.64 L161.41 1260.93 L161.74 1262.15 L162.06 1263.29 L162.39 1264.35 L162.71 1265.32 L163.04 1266.2 L163.36 1267 L163.69 1267.72 L164.01 1268.34 L164.34 1268.87 L164.66 1269.32 L164.99 1269.67 L165.31 1269.94 L165.64 1270.11 L165.97 1270.19 L166.29 1270.18 L166.62 1270.05 L166.94 1269.81 L167.27 1269.45 L167.59 1268.98 L167.92 1268.39 L168.24 1267.69 L168.57 1266.88 L168.89 1265.96 L169.22 1264.93 L169.54 1263.79 L169.87 1262.54 L170.19 1261.19 L170.52 1259.74 L170.84 1258.19 L171.17 1256.54 L171.49 1254.8 L171.82 1252.96 L172.14 1251.03 L172.47 1249.02 L172.79 1246.92 L173.12 1244.75 L173.44 1242.49 L173.77 1240.16 L174.09 1237.76 L174.42 1235.3 L174.74 1232.77 L175.07 1230.18 L175.39 1227.54 L175.72 1224.84 L176.04 1222.1 L176.37 1219.32 L176.69 1216.49 L177.02 1213.63 L177.34 1210.74 L177.67 1207.83 L177.99 1204.89 L178.32 1201.94 L178.65 1198.98 L178.97 1196 L179.3 1193.03 L179.62 1190.05 L179.95 1187.08 L180.27 1184.12 L180.6 1181.17 L180.92 1178.24 L181.25 1175.34 L181.57 1172.46 L181.9 1169.62 L182.22 1166.81 L182.55 1164.04 L182.87 1161.32 L183.2 1158.64 L183.52 1156.02 L183.85 1153.46 L184.17 1150.95 L184.5 1148.51 L184.82 1146.14 L185.15 1143.84 L185.47 1141.62 L185.8 1139.47 L186.12 1137.41 L186.45 1135.43 L186.77 1133.54 L187.1 1131.74 L187.42 1130.03 L187.75 1128.42 L188.07 1126.91 L188.4 1125.5 L188.72 1124.19 L189.05 1122.99 L189.37 1121.89 L189.7 1120.9 L190.02 1120.02 L190.35 1119.26 L190.67 1118.6 L191 1118.06 L191.32 1117.63 L191.65 1117.32 L191.98 1117.13 L192.3 1117.04 L192.63 1117.07 L192.95 1117.16 L193.28 1117.34 L193.6 1117.58 L193.93 1117.9 L194.25 1118.3 L194.58 1118.77 L194.9 1119.31 L195.23 1119.93 L195.55 1120.62 L195.88 1121.38 L196.2 1122.21 L196.53 1123.11 L196.85 1124.07 L197.18 1125.11 L197.5 1126.21 L197.83 1127.38 L198.15 1128.62 L198.48 1129.91 L198.8 1131.27 L199.13 1132.69 L199.45 1134.17 L199.78 1135.71 L200.1 1137.3 L200.43 1138.95 L200.75 1140.64 L201.08 1142.4 L201.4 1144.19 L201.73 1146.04 L202.05 1147.93 L202.38 1149.87 L202.7 1151.85 L203.03 1153.86 L203.35 1155.92 L203.68 1158.01 L204 1160.13 L204.33 1162.29 L204.66 1164.47 L204.98 1166.68 L205.31 1168.92 L205.63 1171.17 L205.96 1173.45 L206.28 1175.74 L206.61 1178.05 L206.93 1180.38 L207.26 1182.71 L207.58 1185.05 L207.91 1187.4 L208.23 1189.75 L208.56 1192.1 L208.88 1194.45 L209.21 1196.79 L209.53 1199.13 L209.86 1201.46 L210.18 1203.78 L210.51 1206.09 L210.83 1208.38 L211.16 1210.65 L211.48 1212.91 L211.81 1215.14 L212.13 1217.34 L212.46 1219.52 L212.78 1221.67 L213.11 1223.79 L213.43 1225.87 L213.76 1227.92 L214.08 1229.93 L214.41 1231.9 L214.73 1233.82 L215.06 1235.71 L215.38 1237.54 L215.71 1239.33 L216.03 1241.07 L216.36 1242.76 L216.68 1244.4 L217.01 1245.98 L217.34 1247.5 L217.66 1248.97 L217.99 1250.38 L218.31 1251.72 L218.64 1253.01 L218.96 1254.23 L219.29 1255.39 L219.61 1256.48 L219.94 1257.5 L220.26 1258.45 L220.59 1259.34 L220.91 1260.16 L221.24 1260.9 L221.56 1261.57 L221.89 1262.18 L222.21 1262.7 L222.54 1263.16 L222.86 1263.54 L223.19 1263.85 L223.51 1264.08 L223.84 1264.24 L224.16 1264.32 L224.49 1264.32 L224.81 1264.23 L225.14 1264.02 L225.46 1263.71 L225.79 1263.28 L226.11 1262.75 L226.44 1262.12 L226.76 1261.38 L227.09 1260.53 L227.41 1259.58 L227.74 1258.53 L228.06 1257.38 L228.39 1256.13 L228.71 1254.78 L229.04 1253.34 L229.36 1251.81 L229.69 1250.18 L230.01 1248.47 L230.34 1246.67 L230.67 1244.78 L230.99 1242.82 L231.32 1240.77 L231.64 1238.66 L231.97 1236.47 L232.29 1234.21 L232.62 1231.88 L232.94 1229.5 L233.27 1227.05 L233.59 1224.55 L233.92 1222 L234.24 1219.4 L234.57 1216.75 L234.89 1214.06 L235.22 1211.34 L235.54 1208.58 L235.87 1205.8 L236.19 1202.98 L236.52 1200.15 L236.84 1197.3 L237.17 1194.44 L237.49 1191.57 L237.82 1188.69 L238.14 1185.81 L238.47 1182.94 L238.79 1180.07 L239.12 1177.22 L239.44 1174.38 L239.77 1171.56 L240.09 1168.76 L240.42 1165.99 L240.74 1163.25 L241.07 1160.55 L241.39 1157.89 L241.72 1155.27 L242.04 1152.7 L242.37 1150.17 L242.69 1147.7 L243.02 1145.29 L243.34 1142.94 L243.67 1140.66 L244 1138.44 L244.32 1136.29 L244.65 1134.22 L244.97 1132.23 L245.3 1130.31 L245.62 1128.47 L245.95 1126.73 L246.27 1125.06 L246.6 1123.49 L246.92 1122.01 L247.25 1120.63 L247.57 1119.34 L247.9 1118.15 L248.22 1117.06 L248.55 1116.07 L248.87 1115.18 L249.2 1114.4 L249.52 1113.72 L249.85 1113.15 L250.17 1112.68 L250.5 1112.32 L250.82 1112.07 L251.15 1111.93 L251.47 1111.9 L251.8 1111.97 L252.12 1112.15 L252.45 1112.43 L252.77 1112.81 L253.1 1113.3 L253.42 1113.89 L253.75 1114.57 L254.07 1115.36 L254.4 1116.25 L254.72 1117.24 L255.05 1118.32 L255.37 1119.5 L255.7 1120.77 L256.02 1122.13 L256.35 1123.58 L256.68 1125.12 L257 1126.75 L257.33 1128.46 L257.65 1130.25 L257.98 1132.11 L258.3 1134.06 L258.63 1136.08 L258.95 1138.16 L259.28 1140.32 L259.6 1142.54 L259.93 1144.82 L260.25 1147.16 L260.58 1149.55 L260.9 1152 L261.23 1154.49 L261.55 1157.03 L261.88 1159.61 L262.2 1162.23 L262.53 1164.88 L262.85 1167.57 L263.18 1170.28 L263.5 1173.01 L263.83 1175.76 L264.15 1178.53 L264.48 1181.31 L264.8 1184.09 L265.13 1186.88 L265.45 1189.67 L265.78 1192.46 L266.1 1195.24 L266.43 1198.01 L266.75 1200.76 L267.08 1203.49 L267.4 1206.2 L267.73 1208.88 L268.05 1211.54 L268.38 1214.16 L268.7 1216.74 L269.03 1219.27 L269.36 1221.77 L269.68 1224.22 L270.01 1226.61 L270.33 1228.95 L270.66 1231.23 L270.98 1233.45 L271.31 1235.6 L271.63 1237.69 L271.96 1239.71 L272.28 1241.65 L272.61 1243.52 L272.93 1245.31 L273.26 1247.02 L273.58 1248.64 L273.91 1250.18 L274.23 1251.64 L274.56 1253 L274.88 1254.27 L275.21 1255.45 L275.53 1256.53 L275.86 1257.52 L276.18 1258.4 L276.51 1259.19 L276.83 1259.88 L277.16 1260.47 L277.48 1260.95 L277.81 1261.34 L278.13 1261.62 L278.46 1261.79 L278.78 1261.87 L279.11 1261.84 L279.43 1261.74 L279.76 1261.56 L280.08 1261.3 L280.41 1260.97 L280.73 1260.55 L281.06 1260.06 L281.38 1259.49 L281.71 1258.85 L282.03 1258.13 L282.36 1257.34 L282.69 1256.47 L283.01 1255.53 L283.34 1254.52 L283.66 1253.44 L283.99 1252.29 L284.31 1251.07 L284.64 1249.78 L284.96 1248.43 L285.29 1247.02 L285.61 1245.54 L285.94 1244 L286.26 1242.4 L286.59 1240.74 L286.91 1239.03 L287.24 1237.26 L287.56 1235.45 L287.89 1233.58 L288.21 1231.66 L288.54 1229.7 L288.86 1227.69 L289.19 1225.64 L289.51 1223.55 L289.84 1221.43 L290.16 1219.27 L290.49 1217.07 L290.81 1214.85 L291.14 1212.6 L291.46 1210.32 L291.79 1208.02 L292.11 1205.69 L292.44 1203.35 L292.76 1201 L293.09 1198.63 L293.41 1196.25 L293.74 1193.86 L294.06 1191.46 L294.39 1189.07 L294.71 1186.67 L295.04 1184.27 L295.37 1181.88 L295.69 1179.5 L296.02 1177.12 L296.34 1174.76 L296.67 1172.41 L296.99 1170.08 L297.32 1167.77 L297.64 1165.48 L297.97 1163.22 L298.29 1160.99 L298.62 1158.78 L298.94 1156.6 L299.27 1154.46 L299.59 1152.36 L299.92 1150.3 L300.24 1148.27 L300.57 1146.29 L300.89 1144.36 L301.22 1142.47 L301.54 1140.63 L301.87 1138.84 L302.19 1137.11 L302.52 1135.43 L302.84 1133.81 L303.17 1132.24 L303.49 1130.74 L303.82 1129.3 L304.14 1127.92 L304.47 1126.61 L304.79 1125.36 L305.12 1124.18 L305.44 1123.07 L305.77 1122.03 L306.09 1121.07 L306.42 1120.17 L306.74 1119.35 L307.07 1118.6 L307.39 1117.93 L307.72 1117.33 L308.04 1116.81 L308.37 1116.36 L308.7 1115.99 L309.02 1115.7 L309.35 1115.49 L309.67 1115.36 L310 1115.3 L310.32 1115.34 L310.65 1115.48 L310.97 1115.74 L311.3 1116.1 L311.62 1116.57 L311.95 1117.16 L312.27 1117.84 L312.6 1118.64 L312.92 1119.54 L313.25 1120.55 L313.57 1121.66 L313.9 1122.87 L314.22 1124.18 L314.55 1125.59 L314.87 1127.1 L315.2 1128.69 L315.52 1130.38 L315.85 1132.16 L316.17 1134.03 L316.5 1135.97 L316.82 1138 L317.15 1140.11 L317.47 1142.29 L317.8 1144.54 L318.12 1146.87 L318.45 1149.25 L318.77 1151.7 L319.1 1154.21 L319.42 1156.77 L319.75 1159.38 L320.07 1162.04 L320.4 1164.74 L320.72 1167.48 L321.05 1170.26 L321.38 1173.07 L321.7 1175.91 L322.03 1178.76 L322.35 1181.64 L322.68 1184.54 L323 1187.44 L323.33 1190.35 L323.65 1193.27 L323.98 1196.18 L324.3 1199.08 L324.63 1201.98 L324.95 1204.86 L325.28 1207.72 L325.6 1210.57 L325.93 1213.38 L326.25 1216.16 L326.58 1218.91 L326.9 1221.62 L327.23 1224.29 L327.55 1226.91 L327.88 1229.48 L328.2 1232 L328.53 1234.46 L328.85 1236.86 L329.18 1239.2 L329.5 1241.46 L329.83 1243.66 L330.15 1245.78 L330.48 1247.83 L330.8 1249.79 L331.13 1251.67 L331.45 1253.47 L331.78 1255.18 L332.1 1256.79 L332.43 1258.31 L332.75 1259.74 L333.08 1261.07 L333.4 1262.3 L333.73 1263.44 L334.05 1264.46 L334.38 1265.39 L334.71 1266.2 L335.03 1266.92 L335.36 1267.52 L335.68 1268.01 L336.01 1268.4 L336.33 1268.68 L336.66 1268.84 L336.98 1268.9 L337.31 1268.85 L337.63 1268.69 L337.96 1268.44 L338.28 1268.09 L338.61 1267.63 L338.93 1267.08 L339.26 1266.43 L339.58 1265.68 L339.91 1264.83 L340.23 1263.88 L340.56 1262.85 L340.88 1261.71 L341.21 1260.49 L341.53 1259.18 L341.86 1257.78 L342.18 1256.29 L342.51 1254.72 L342.83 1253.07 L343.16 1251.33 L343.48 1249.52 L343.81 1247.64 L344.13 1245.68 L344.46 1243.65 L344.78 1241.56 L345.11 1239.4 L345.43 1237.19 L345.76 1234.91 L346.08 1232.58 L346.41 1230.2 L346.73 1227.76 L347.06 1225.29 L347.38 1222.77 L347.71 1220.22 L348.04 1217.63 L348.36 1215 L348.69 1212.36 L349.01 1209.68 L349.34 1206.99 L349.66 1204.28 L349.99 1201.56 L350.31 1198.83 L350.64 1196.09 L350.96 1193.36 L351.29 1190.62 L351.61 1187.89 L351.94 1185.17 L352.26 1182.47 L352.59 1179.78 L352.91 1177.11 L353.24 1174.46 L353.56 1171.85 L353.89 1169.27 L354.21 1166.72 L354.54 1164.21 L354.86 1161.74 L355.19 1159.32 L355.51 1156.95 L355.84 1154.63 L356.16 1152.36 L356.49 1150.16 L356.81 1148.01 L357.14 1145.93 L357.46 1143.92 L357.79 1141.97 L358.11 1140.1 L358.44 1138.31 L358.76 1136.59 L359.09 1134.96 L359.41 1133.4 L359.74 1131.93 L360.06 1130.55 L360.39 1129.25 L360.72 1128.05 L361.04 1126.94 L361.37 1125.92 L361.69 1124.99 L362.02 1124.16 L362.34 1123.43 L362.67 1122.8 L362.99 1122.26 L363.32 1121.83 L363.64 1121.5 L363.97 1121.26 L364.29 1121.13 L364.62 1121.1 L364.94 1121.15 L365.27 1121.26 L365.59 1121.44 L365.92 1121.68 L366.24 1122 L366.57 1122.37 L366.89 1122.81 L367.22 1123.32 L367.54 1123.89 L367.87 1124.53 L368.19 1125.23 L368.52 1125.99 L368.84 1126.81 L369.17 1127.7 L369.49 1128.64 L369.82 1129.65 L370.14 1130.71 L370.47 1131.83 L370.79 1133.01 L371.12 1134.24 L371.44 1135.52 L371.77 1136.86 L372.09 1138.26 L372.42 1139.7 L372.74 1141.19 L373.07 1142.73 L373.4 1144.31 L373.72 1145.94 L374.05 1147.62 L374.37 1149.33 L374.7 1151.09 L375.02 1152.89 L375.35 1154.72 L375.67 1156.58 L376 1158.48 L376.32 1160.42 L376.65 1162.38 L376.97 1164.37 L377.3 1166.39 L377.62 1168.43 L377.95 1170.49 L378.27 1172.58 L378.6 1174.68 L378.92 1176.8 L379.25 1178.94 L379.57 1181.09 L379.9 1183.25 L380.22 1185.41 L380.55 1187.59 L380.87 1189.77 L381.2 1191.95 L381.52 1194.13 L381.85 1196.32 L382.17 1198.5 L382.5 1200.67 L382.82 1202.84 L383.15 1204.99 L383.47 1207.14 L383.8 1209.27 L384.12 1211.39 L384.45 1213.49 L384.77 1215.57 L385.1 1217.63 L385.42 1219.67 L385.75 1221.68 L386.07 1223.66 L386.4 1225.62" stroke="#0000ff"/>
<path d="M126.3 1206.75 L126.63 1209.89 L126.95 1212.95 L127.28 1215.93 L127.6 1218.82 L127.93 1221.61 L128.25 1224.29 L128.58 1226.85 L128.9 1229.28 L129.23 1231.57 L129.55 1233.72 L129.88 1235.72 L130.2 1237.56 L130.53 1239.23 L130.85 1240.74 L131.18 1242.07 L131.5 1243.22 L131.83 1244.19 L132.15 1244.97 L132.48 1245.57 L132.8 1245.97 L133.13 1246.19 L133.45 1246.2 L133.78 1245.98 L134.1 1245.52 L134.43 1244.82 L134.75 1243.88 L135.08 1242.71 L135.4 1241.31 L135.73 1239.69 L136.05 1237.85 L136.38 1235.8 L136.7 1233.55 L137.03 1231.11 L137.35 1228.49 L137.68 1225.69 L138 1222.74 L138.33 1219.64 L138.65 1216.41 L138.98 1213.05 L139.31 1209.59 L139.63 1206.03 L139.96 1202.39 L140.28 1198.69 L140.61 1194.94 L140.93 1191.16 L141.26 1187.36 L141.58 1183.55 L141.91 1179.76 L142.23 1175.99 L142.56 1172.27 L142.88 1168.6 L143.21 1165.01 L143.53 1161.51 L143.86 1158.11 L144.18 1154.82 L144.51 1151.67 L144.83 1148.66 L145.16 1145.8 L145.48 1143.11 L145.81 1140.59 L146.13 1138.27 L146.46 1136.14 L146.78 1134.21 L147.11 1132.5 L147.43 1131.01 L147.76 1129.75 L148.08 1128.71 L148.41 1127.92 L148.73 1127.36 L149.06 1127.05 L149.38 1126.97 L149.71 1127.13 L150.03 1127.52 L150.36 1128.14 L150.68 1128.99 L151.01 1130.06 L151.33 1131.35 L151.66 1132.85 L151.98 1134.57 L152.31 1136.48 L152.64 1138.6 L152.96 1140.9 L153.29 1143.39 L153.61 1146.04 L153.94 1148.86 L154.26 1151.84 L154.59 1154.95 L154.91 1158.2 L155.24 1161.57 L155.56 1165.04 L155.89 1168.61 L156.21 1172.27 L156.54 1175.99 L156.86 1179.77 L157.19 1183.6 L157.51 1187.45 L157.84 1191.32 L158.16 1195.2 L158.49 1199.06 L158.81 1202.9 L159.14 1206.7 L159.46 1210.45 L159.79 1214.13 L160.11 1217.74 L160.44 1221.25 L160.76 1224.67 L161.09 1227.96 L161.41 1231.13 L161.74 1234.16 L162.06 1237.05 L162.39 1239.77 L162.71 1242.32 L163.04 1244.7 L163.36 1246.89 L163.69 1248.89 L164.01 1250.69 L164.34 1252.27 L164.66 1253.65 L164.99 1254.81 L165.31 1255.74 L165.64 1256.45 L165.97 1256.94 L166.29 1257.19 L166.62 1257.21 L166.94 1257 L167.27 1256.56 L167.59 1255.88 L167.92 1254.98 L168.24 1253.85 L168.57 1252.5 L168.89 1250.93 L169.22 1249.15 L169.54 1247.16 L169.87 1244.98 L170.19 1242.6 L170.52 1240.05 L170.84 1237.32 L171.17 1234.43 L171.49 1231.39 L171.82 1228.2 L172.14 1224.89 L172.47 1221.46 L172.79 1217.92 L173.12 1214.3 L173.44 1210.59 L173.77 1206.81 L174.09 1202.98 L174.42 1199.12 L174.74 1195.22 L175.07 1191.32 L175.39 1187.42 L175.72 1183.53 L176.04 1179.68 L176.37 1175.87 L176.69 1172.12 L177.02 1168.44 L177.34 1164.85 L177.67 1161.35 L177.99 1157.97 L178.32 1154.71 L178.65 1151.58 L178.97 1148.6 L179.3 1145.77 L179.62 1143.11 L179.95 1140.63 L180.27 1138.33 L180.6 1136.22 L180.92 1134.32 L181.25 1132.62 L181.57 1131.14 L181.9 1129.87 L182.22 1128.83 L182.55 1128.02 L182.87 1127.44 L183.2 1127.08 L183.52 1126.97 L183.85 1127.08 L184.17 1127.4 L184.5 1127.94 L184.82 1128.7 L185.15 1129.67 L185.47 1130.84 L185.8 1132.22 L186.12 1133.8 L186.45 1135.57 L186.77 1137.52 L187.1 1139.66 L187.42 1141.96 L187.75 1144.43 L188.07 1147.05 L188.4 1149.82 L188.72 1152.72 L189.05 1155.75 L189.37 1158.88 L189.7 1162.12 L190.02 1165.45 L190.35 1168.85 L190.67 1172.32 L191 1175.85 L191.32 1179.41 L191.65 1182.99 L191.98 1186.59 L192.3 1190.19 L192.63 1193.78 L192.95 1197.34 L193.28 1200.86 L193.6 1204.33 L193.93 1207.74 L194.25 1211.07 L194.58 1214.3 L194.9 1217.44 L195.23 1220.47 L195.55 1223.37 L195.88 1226.13 L196.2 1228.76 L196.53 1231.22 L196.85 1233.53 L197.18 1235.67 L197.5 1237.62 L197.83 1239.39 L198.15 1240.97 L198.48 1242.35 L198.8 1243.52 L199.13 1244.49 L199.45 1245.24 L199.78 1245.79 L200.1 1246.11 L200.43 1246.22 L200.75 1246.11 L201.08 1245.77 L201.4 1245.21 L201.73 1244.44 L202.05 1243.44 L202.38 1242.23 L202.7 1240.82 L203.03 1239.2 L203.35 1237.38 L203.68 1235.38 L204 1233.19 L204.33 1230.84 L204.66 1228.31 L204.98 1225.64 L205.31 1222.82 L205.63 1219.87 L205.96 1216.8 L206.28 1213.62 L206.61 1210.35 L206.93 1207 L207.26 1203.57 L207.58 1200.09 L207.91 1196.57 L208.23 1193.02 L208.56 1189.46 L208.88 1185.89 L209.21 1182.34 L209.53 1178.82 L209.86 1175.34 L210.18 1171.91 L210.51 1168.56 L210.83 1165.29 L211.16 1162.11 L211.48 1159.04 L211.81 1156.09 L212.13 1153.27 L212.46 1150.6 L212.78 1148.08 L213.11 1145.72 L213.43 1143.53 L213.76 1141.53 L214.08 1139.71 L214.41 1138.09 L214.73 1136.68 L215.06 1135.47 L215.38 1134.47 L215.71 1133.7 L216.03 1133.14 L216.36 1132.8 L216.68 1132.69 L217.01 1132.81 L217.34 1133.16 L217.66 1133.74 L217.99 1134.55 L218.31 1135.59 L218.64 1136.86 L218.96 1138.34 L219.29 1140.03 L219.61 1141.93 L219.94 1144.03 L220.26 1146.32 L220.59 1148.79 L220.91 1151.43 L221.24 1154.24 L221.56 1157.2 L221.89 1160.29 L222.21 1163.52 L222.54 1166.86 L222.86 1170.31 L223.19 1173.84 L223.51 1177.46 L223.84 1181.13 L224.16 1184.86 L224.49 1188.62 L224.81 1192.4 L225.14 1196.18 L225.46 1199.96 L225.79 1203.71 L226.11 1207.43 L226.44 1211.09 L226.76 1214.69 L227.09 1218.21 L227.41 1221.64 L227.74 1224.96 L228.06 1228.16 L228.39 1231.23 L228.71 1234.16 L229.04 1236.93 L229.36 1239.54 L229.69 1241.98 L230.01 1244.23 L230.34 1246.29 L230.67 1248.15 L230.99 1249.8 L231.32 1251.24 L231.64 1252.45 L231.97 1253.45 L232.29 1254.22 L232.62 1254.75 L232.94 1255.06 L233.27 1255.13 L233.59 1254.96 L233.92 1254.55 L234.24 1253.9 L234.57 1253.01 L234.89 1251.9 L235.22 1250.55 L235.54 1248.97 L235.87 1247.18 L236.19 1245.18 L236.52 1242.97 L236.84 1240.57 L237.17 1237.97 L237.49 1235.2 L237.82 1232.26 L238.14 1229.16 L238.47 1225.92 L238.79 1222.54 L239.12 1219.03 L239.44 1215.42 L239.77 1211.72 L240.09 1207.92 L240.42 1204.07 L240.74 1200.15 L241.07 1196.2 L241.39 1192.21 L241.72 1188.22 L242.04 1184.23 L242.37 1180.26 L242.69 1176.32 L243.02 1172.43 L243.34 1168.59 L243.67 1164.83 L244 1161.16 L244.32 1157.59 L244.65 1154.14 L244.97 1150.81 L245.3 1147.62 L245.62 1144.59 L245.95 1141.71 L246.27 1139.01 L246.6 1136.49 L246.92 1134.16 L247.25 1132.04 L247.57 1130.12 L247.9 1128.41 L248.22 1126.93 L248.55 1125.67 L248.87 1124.64 L249.2 1123.85 L249.52 1123.3 L249.85 1122.99 L250.17 1122.91 L250.5 1123.07 L250.82 1123.46 L251.15 1124.07 L251.47 1124.91 L251.8 1125.96 L252.12 1127.24 L252.45 1128.72 L252.77 1130.41 L253.1 1132.31 L253.42 1134.39 L253.75 1136.67 L254.07 1139.12 L254.4 1141.74 L254.72 1144.53 L255.05 1147.46 L255.37 1150.54 L255.7 1153.74 L256.02 1157.07 L256.35 1160.5 L256.68 1164.02 L257 1167.63 L257.33 1171.31 L257.65 1175.04 L257.98 1178.82 L258.3 1182.62 L258.63 1186.44 L258.95 1190.27 L259.28 1194.08 L259.6 1197.87 L259.93 1201.62 L260.25 1205.32 L260.58 1208.96 L260.9 1212.52 L261.23 1215.99 L261.55 1219.36 L261.88 1222.61 L262.2 1225.74 L262.53 1228.74 L262.85 1231.58 L263.18 1234.27 L263.5 1236.79 L263.83 1239.14 L264.15 1241.3 L264.48 1243.27 L264.8 1245.05 L265.13 1246.61 L265.45 1247.97 L265.78 1249.12 L266.1 1250.04 L266.43 1250.74 L266.75 1251.22 L267.08 1251.47 L267.4 1251.49 L267.73 1251.3 L268.05 1250.89 L268.38 1250.27 L268.7 1249.44 L269.03 1248.4 L269.36 1247.16 L269.68 1245.71 L270.01 1244.08 L270.33 1242.25 L270.66 1240.25 L270.98 1238.07 L271.31 1235.72 L271.63 1233.22 L271.96 1230.56 L272.28 1227.77 L272.61 1224.85 L272.93 1221.82 L273.26 1218.67 L273.58 1215.43 L273.91 1212.11 L274.23 1208.71 L274.56 1205.26 L274.88 1201.76 L275.21 1198.23 L275.53 1194.67 L275.86 1191.11 L276.18 1187.55 L276.51 1184.01 L276.83 1180.51 L277.16 1177.04 L277.48 1173.63 L277.81 1170.3 L278.13 1167.04 L278.46 1163.87 L278.78 1160.81 L279.11 1157.87 L279.43 1155.05 L279.76 1152.37 L280.08 1149.84 L280.41 1147.46 L280.73 1145.25 L281.06 1143.2 L281.38 1141.34 L281.71 1139.67 L282.03 1138.19 L282.36 1136.9 L282.69 1135.82 L283.01 1134.95 L283.34 1134.29 L283.66 1133.84 L283.99 1133.6 L284.31 1133.58 L284.64 1133.78 L284.96 1134.19 L285.29 1134.83 L285.61 1135.68 L285.94 1136.75 L286.26 1138.02 L286.59 1139.49 L286.91 1141.17 L287.24 1143.03 L287.56 1145.08 L287.89 1147.31 L288.21 1149.7 L288.54 1152.25 L288.86 1154.96 L289.19 1157.8 L289.51 1160.76 L289.84 1163.85 L290.16 1167.04 L290.49 1170.32 L290.81 1173.68 L291.14 1177.11 L291.46 1180.59 L291.79 1184.12 L292.11 1187.67 L292.44 1191.23 L292.76 1194.79 L293.09 1198.35 L293.41 1201.87 L293.74 1205.35 L294.06 1208.78 L294.39 1212.14 L294.71 1215.42 L295.04 1218.61 L295.37 1221.7 L295.69 1224.66 L296.02 1227.51 L296.34 1230.21 L296.67 1232.76 L296.99 1235.15 L297.32 1237.38 L297.64 1239.43 L297.97 1241.29 L298.29 1242.97 L298.62 1244.44 L298.94 1245.71 L299.27 1246.78 L299.59 1247.63 L299.92 1248.27 L300.24 1248.68 L300.57 1248.88 L300.89 1248.86 L301.22 1248.6 L301.54 1248.1 L301.87 1247.37 L302.19 1246.41 L302.52 1245.21 L302.84 1243.8 L303.17 1242.17 L303.49 1240.32 L303.82 1238.28 L304.14 1236.03 L304.47 1233.6 L304.79 1230.99 L305.12 1228.2 L305.44 1225.27 L305.77 1222.18 L306.09 1218.96 L306.42 1215.61 L306.74 1212.16 L307.07 1208.61 L307.39 1204.97 L307.72 1201.27 L308.04 1197.51 L308.37 1193.71 L308.7 1189.88 L309.02 1186.04 L309.35 1182.21 L309.67 1178.39 L310 1174.6 L310.32 1170.86 L310.65 1167.19 L310.97 1163.58 L311.3 1160.07 L311.62 1156.66 L311.95 1153.36 L312.27 1150.19 L312.6 1147.16 L312.92 1144.29 L313.25 1141.57 L313.57 1139.03 L313.9 1136.67 L314.22 1134.5 L314.55 1132.54 L314.87 1130.78 L315.2 1129.23 L315.52 1127.9 L315.85 1126.8 L316.17 1125.93 L316.5 1125.3 L316.82 1124.89 L317.15 1124.73 L317.47 1124.8 L317.8 1125.1 L318.12 1125.63 L318.45 1126.4 L318.77 1127.39 L319.1 1128.61 L319.42 1130.04 L319.75 1131.69 L320.07 1133.55 L320.4 1135.61 L320.72 1137.86 L321.05 1140.31 L321.38 1142.93 L321.7 1145.71 L322.03 1148.66 L322.35 1151.76 L322.68 1154.99 L323 1158.35 L323.33 1161.82 L323.65 1165.4 L323.98 1169.06 L324.3 1172.8 L324.63 1176.61 L324.95 1180.46 L325.28 1184.35 L325.6 1188.26 L325.93 1192.18 L326.25 1196.1 L326.58 1199.99 L326.9 1203.85 L327.23 1207.67 L327.55 1211.42 L327.88 1215.1 L328.2 1218.7 L328.53 1222.19 L328.85 1225.58 L329.18 1228.84 L329.5 1231.96 L329.83 1234.94 L330.15 1237.76 L330.48 1240.41 L330.8 1242.89 L331.13 1245.18 L331.45 1247.28 L331.78 1249.18 L332.1 1250.87 L332.43 1252.35 L332.75 1253.61 L333.08 1254.65 L333.4 1255.46 L333.73 1256.04 L334.05 1256.39 L334.38 1256.51 L334.71 1256.39 L335.03 1256.02 L335.36 1255.42 L335.68 1254.58 L336.01 1253.51 L336.33 1252.2 L336.66 1250.67 L336.98 1248.92 L337.31 1246.96 L337.63 1244.79 L337.96 1242.43 L338.28 1239.88 L338.61 1237.15 L338.93 1234.25 L339.26 1231.19 L339.58 1227.99 L339.91 1224.66 L340.23 1221.2 L340.56 1217.64 L340.88 1213.99 L341.21 1210.26 L341.53 1206.46 L341.86 1202.61 L342.18 1198.73 L342.51 1194.82 L342.83 1190.91 L343.16 1187.01 L343.48 1183.13 L343.81 1179.29 L344.13 1175.51 L344.46 1171.79 L344.78 1168.15 L345.11 1164.61 L345.43 1161.18 L345.76 1157.88 L346.08 1154.7 L346.41 1151.68 L346.73 1148.81 L347.06 1146.12 L347.38 1143.6 L347.71 1141.27 L348.04 1139.15 L348.36 1137.23 L348.69 1135.52 L349.01 1134.04 L349.34 1132.78 L349.66 1131.75 L349.99 1130.96 L350.31 1130.4 L350.64 1130.09 L350.96 1130.01 L351.29 1130.16 L351.61 1130.5 L351.94 1131.05 L352.26 1131.8 L352.59 1132.75 L352.91 1133.89 L353.24 1135.22 L353.56 1136.74 L353.89 1138.44 L354.21 1140.31 L354.54 1142.35 L354.86 1144.55 L355.19 1146.9 L355.51 1149.4 L355.84 1152.03 L356.16 1154.79 L356.49 1157.67 L356.81 1160.65 L357.14 1163.72 L357.46 1166.89 L357.79 1170.12 L358.11 1173.42 L358.44 1176.77 L358.76 1180.15 L359.09 1183.57 L359.41 1186.99 L359.74 1190.42 L360.06 1193.85 L360.39 1197.24 L360.72 1200.61 L361.04 1203.93 L361.37 1207.19 L361.69 1210.38 L362.02 1213.49 L362.34 1216.52 L362.67 1219.43 L362.99 1222.24 L363.32 1224.93 L363.64 1227.48 L363.97 1229.89 L364.29 1232.15 L364.62 1234.26 L364.94 1236.2 L365.27 1237.96 L365.59 1239.55 L365.92 1240.96 L366.24 1242.18 L366.57 1243.2 L366.89 1244.03 L367.22 1244.66 L367.54 1245.09 L367.87 1245.31 L368.19 1245.33 L368.52 1245.12 L368.84 1244.67 L369.17 1244 L369.49 1243.09 L369.82 1241.96 L370.14 1240.6 L370.47 1239.03 L370.79 1237.25 L371.12 1235.27 L371.44 1233.1 L371.77 1230.73 L372.09 1228.2 L372.42 1225.5 L372.74 1222.64 L373.07 1219.64 L373.4 1216.52 L373.72 1213.27 L374.05 1209.92 L374.37 1206.48 L374.7 1202.96 L375.02 1199.38 L375.35 1195.76 L375.67 1192.1 L376 1188.42 L376.32 1184.74 L376.65 1181.07 L376.97 1177.42 L377.3 1173.82 L377.62 1170.28 L377.95 1166.81 L378.27 1163.42 L378.6 1160.13 L378.92 1156.95 L379.25 1153.9 L379.57 1150.99 L379.9 1148.22 L380.22 1145.62 L380.55 1143.19 L380.87 1140.94 L381.2 1138.88 L381.52 1137.02 L381.85 1135.36 L382.17 1133.92 L382.5 1132.7 L382.82 1131.7 L383.15 1130.93 L383.47 1130.39 L383.8 1130.09 L384.12 1130.01 L384.45 1130.17 L384.77 1130.56 L385.1 1131.16 L385.42 1131.99 L385.75 1133.04 L386.07 1134.3 L386.4 1135.77" stroke="#0000ff"/>
</g>
<rect x="126.3" y="1047.2" width="260.1" height="289.8" fill="none" stroke="#000" stroke-width="2.3"/>
<path d="M126.3 1337v10M256.35 1337v10M386.4 1337v10M126.3 1337h-10M126.3 1192.1h-10M126.3 1047.2h-10" stroke="#000" stroke-width="2.3" fill="none"/>
<text x="126.3" y="1387.1" text-anchor="middle">0</text>
<text x="256.35" y="1387.1" text-anchor="middle">10</text>
<text x="386.4" y="1387.1" text-anchor="middle">20</text>
<text x="256.35" y="1029.3" text-anchor="middle" xml:space="preserve">(b)   SL</text>
<clipPath id="cs1"><rect x="477.4" y="1047.2" width="260.1" height="289.8"/></clipPath>
<g clip-path="url(#cs1)" fill="none" stroke-width="2.1" stroke-linejoin="round">
<path d="M477.4 1234.11 L477.73 1236.77 L478.05 1239.25 L478.38 1241.52 L478.7 1243.58 L479.03 1245.41 L479.35 1247.02 L479.68 1248.39 L480 1249.51 L480.33 1250.39 L480.65 1251.02 L480.98 1251.39 L481.3 1251.51 L481.63 1251.37 L481.95 1250.98 L482.28 1250.33 L482.6 1249.43 L482.93 1248.28 L483.25 1246.9 L483.58 1245.27 L483.9 1243.42 L484.23 1241.34 L484.55 1239.06 L484.88 1236.57 L485.2 1233.89 L485.53 1231.03 L485.85 1228 L486.18 1224.81 L486.5 1221.49 L486.83 1218.04 L487.15 1214.47 L487.48 1210.81 L487.8 1207.07 L488.13 1203.27 L488.45 1199.42 L488.78 1195.53 L489.1 1191.63 L489.43 1187.73 L489.75 1183.86 L490.08 1180.01 L490.4 1176.22 L490.73 1172.5 L491.06 1168.86 L491.38 1165.32 L491.71 1161.9 L492.03 1158.61 L492.36 1155.46 L492.68 1152.47 L493.01 1149.65 L493.33 1147.02 L493.66 1144.57 L493.98 1142.34 L494.31 1140.32 L494.63 1138.52 L494.96 1136.95 L495.28 1135.62 L495.61 1134.53 L495.93 1133.69 L496.26 1133.11 L496.58 1132.77 L496.91 1132.7 L497.23 1132.88 L497.56 1133.31 L497.88 1134 L498.21 1134.94 L498.53 1136.12 L498.86 1137.55 L499.18 1139.21 L499.51 1141.1 L499.83 1143.21 L500.16 1145.53 L500.48 1148.05 L500.81 1150.76 L501.13 1153.65 L501.46 1156.7 L501.78 1159.91 L502.11 1163.26 L502.43 1166.73 L502.76 1170.31 L503.08 1173.98 L503.41 1177.73 L503.74 1181.54 L504.06 1185.4 L504.39 1189.29 L504.71 1193.19 L505.04 1197.09 L505.36 1200.96 L505.69 1204.8 L506.01 1208.58 L506.34 1212.29 L506.66 1215.91 L506.99 1219.43 L507.31 1222.83 L507.64 1226.1 L507.96 1229.23 L508.29 1232.19 L508.61 1234.98 L508.94 1237.59 L509.26 1240 L509.59 1242.2 L509.91 1244.19 L510.24 1245.95 L510.56 1247.48 L510.89 1248.77 L511.21 1249.82 L511.54 1250.62 L511.86 1251.16 L512.19 1251.46 L512.51 1251.49 L512.84 1251.27 L513.16 1250.8 L513.49 1250.07 L513.81 1249.09 L514.14 1247.87 L514.46 1246.4 L514.79 1244.7 L515.11 1242.78 L515.44 1240.64 L515.76 1238.28 L516.09 1235.73 L516.41 1232.99 L516.74 1230.07 L517.07 1226.99 L517.39 1223.76 L517.72 1220.4 L518.04 1216.91 L518.37 1213.31 L518.69 1209.63 L519.02 1205.86 L519.34 1202.04 L519.67 1198.18 L519.99 1194.28 L520.32 1190.38 L520.64 1186.49 L520.97 1182.62 L521.29 1178.79 L521.62 1175.02 L521.94 1171.33 L522.27 1167.72 L522.59 1164.22 L522.92 1160.83 L523.24 1157.59 L523.57 1154.49 L523.89 1151.55 L524.22 1148.79 L524.54 1146.21 L524.87 1143.84 L525.19 1141.67 L525.52 1139.72 L525.84 1137.99 L526.17 1136.5 L526.49 1135.24 L526.82 1134.24 L527.14 1133.48 L527.47 1132.97 L527.79 1132.72 L528.12 1132.73 L528.44 1132.99 L528.77 1133.5 L529.09 1134.27 L529.42 1135.29 L529.75 1136.55 L530.07 1138.05 L530.4 1139.79 L530.72 1141.75 L531.05 1143.93 L531.37 1146.31 L531.7 1148.9 L532.02 1151.66 L532.35 1154.61 L532.67 1157.71 L533 1160.97 L533.32 1164.35 L533.65 1167.86 L533.97 1171.47 L534.3 1175.17 L534.62 1178.95 L534.95 1182.78 L535.27 1186.65 L535.6 1190.54 L535.92 1194.44 L536.25 1198.33 L536.57 1202.19 L536.9 1206.01 L537.22 1209.77 L537.55 1213.46 L537.87 1217.05 L538.2 1220.53 L538.52 1223.9 L538.85 1227.12 L539.17 1230.19 L539.5 1233.1 L539.82 1235.84 L540.15 1238.38 L540.47 1240.73 L540.8 1242.86 L541.12 1244.78 L541.45 1246.47 L541.77 1247.92 L542.1 1249.13 L542.42 1250.1 L542.75 1250.82 L543.08 1251.29 L543.4 1251.5 L543.73 1251.45 L544.05 1251.15 L544.38 1250.59 L544.7 1249.78 L545.03 1248.73 L545.35 1247.42 L545.68 1245.88 L546 1244.11 L546.33 1242.12 L546.65 1239.9 L546.98 1237.49 L547.3 1234.87 L547.63 1232.08 L547.95 1229.11 L548.28 1225.98 L548.6 1222.7 L548.93 1219.29 L549.25 1215.77 L549.58 1212.14 L549.9 1208.43 L550.23 1204.65 L550.55 1200.81 L550.88 1196.93 L551.2 1193.04 L551.53 1189.14 L551.85 1185.25 L552.18 1181.39 L552.5 1177.58 L552.83 1173.83 L553.15 1170.16 L553.48 1166.58 L553.8 1163.12 L554.13 1159.78 L554.45 1156.58 L554.78 1153.53 L555.1 1150.65 L555.43 1147.94 L555.76 1145.43 L556.08 1143.12 L556.41 1141.02 L556.73 1139.14 L557.06 1137.49 L557.38 1136.07 L557.71 1134.89 L558.03 1133.97 L558.36 1133.29 L558.68 1132.86 L559.01 1132.69 L559.33 1132.78 L559.66 1133.12 L559.98 1133.72 L560.31 1134.57 L560.63 1135.67 L560.96 1137.01 L561.28 1138.58 L561.61 1140.39 L561.93 1142.42 L562.26 1144.67 L562.58 1147.12 L562.91 1149.76 L563.23 1152.59 L563.56 1155.58 L563.88 1158.74 L564.21 1162.04 L564.53 1165.46 L564.86 1169.01 L565.18 1172.65 L565.51 1176.37 L565.83 1180.17 L566.16 1184.01 L566.48 1187.89 L566.81 1191.79 L567.13 1195.69 L567.46 1199.57 L567.78 1203.42 L568.11 1207.22 L568.43 1210.96 L568.76 1214.62 L569.09 1218.18 L569.41 1221.62 L569.74 1224.94 L570.06 1228.12 L570.39 1231.14 L570.71 1234 L571.04 1236.67 L571.36 1239.15 L571.69 1241.43 L572.01 1243.5 L572.34 1245.34 L572.66 1246.96 L572.99 1248.34 L573.31 1249.47 L573.64 1250.36 L573.96 1251 L574.29 1251.38 L574.61 1251.51 L574.94 1251.38 L575.26 1251 L575.59 1250.36 L575.91 1249.47 L576.24 1248.34 L576.56 1246.96 L576.89 1245.34 L577.21 1243.5 L577.54 1241.43 L577.86 1239.15 L578.19 1236.67 L578.51 1234 L578.84 1231.14 L579.16 1228.12 L579.49 1224.94 L579.81 1221.62 L580.14 1218.18 L580.46 1214.62 L580.79 1210.96 L581.11 1207.22 L581.44 1203.42 L581.77 1199.57 L582.09 1195.69 L582.42 1191.79 L582.74 1187.89 L583.07 1184.01 L583.39 1180.17 L583.72 1176.37 L584.04 1172.65 L584.37 1169.01 L584.69 1165.46 L585.02 1162.04 L585.34 1158.74 L585.67 1155.58 L585.99 1152.59 L586.32 1149.76 L586.64 1147.12 L586.97 1144.67 L587.29 1142.42 L587.62 1140.39 L587.94 1138.58 L588.27 1137.01 L588.59 1135.67 L588.92 1134.57 L589.24 1133.72 L589.57 1133.12 L589.89 1132.78 L590.22 1132.69 L590.54 1132.86 L590.87 1133.29 L591.19 1133.97 L591.52 1134.89 L591.84 1136.07 L592.17 1137.49 L592.49 1139.14 L592.82 1141.02 L593.14 1143.12 L593.47 1145.43 L593.79 1147.94 L594.12 1150.65 L594.44 1153.53 L594.77 1156.58 L595.1 1159.78 L595.42 1163.12 L595.75 1166.58 L596.07 1170.16 L596.4 1173.83 L596.72 1177.58 L597.05 1181.39 L597.37 1185.25 L597.7 1189.14 L598.02 1193.04 L598.35 1196.93 L598.67 1200.81 L599 1204.65 L599.32 1208.43 L599.65 1212.14 L599.97 1215.77 L600.3 1219.29 L600.62 1222.7 L600.95 1225.98 L601.27 1229.11 L601.6 1232.08 L601.92 1234.87 L602.25 1237.49 L602.57 1239.9 L602.9 1242.12 L603.22 1244.11 L603.55 1245.88 L603.87 1247.42 L604.2 1248.73 L604.52 1249.78 L604.85 1250.59 L605.17 1251.15 L605.5 1251.45 L605.82 1251.5 L606.15 1251.29 L606.47 1250.82 L606.8 1250.1 L607.12 1249.13 L607.45 1247.92 L607.78 1246.47 L608.1 1244.78 L608.43 1242.86 L608.75 1240.73 L609.08 1238.38 L609.4 1235.84 L609.73 1233.1 L610.05 1230.19 L610.38 1227.12 L610.7 1223.9 L611.03 1220.53 L611.35 1217.05 L611.68 1213.46 L612 1209.77 L612.33 1206.01 L612.65 1202.19 L612.98 1198.33 L613.3 1194.44 L613.63 1190.54 L613.95 1186.65 L614.28 1182.78 L614.6 1178.95 L614.93 1175.17 L615.25 1171.47 L615.58 1167.86 L615.9 1164.35 L616.23 1160.97 L616.55 1157.71 L616.88 1154.61 L617.2 1151.66 L617.53 1148.9 L617.85 1146.31 L618.18 1143.93 L618.5 1141.75 L618.83 1139.79 L619.15 1138.05 L619.48 1136.55 L619.8 1135.29 L620.13 1134.27 L620.45 1133.5 L620.78 1132.99 L621.11 1132.73 L621.43 1132.72 L621.76 1132.97 L622.08 1133.48 L622.41 1134.24 L622.73 1135.24 L623.06 1136.5 L623.38 1137.99 L623.71 1139.72 L624.03 1141.67 L624.36 1143.84 L624.68 1146.21 L625.01 1148.79 L625.33 1151.55 L625.66 1154.49 L625.98 1157.59 L626.31 1160.83 L626.63 1164.22 L626.96 1167.72 L627.28 1171.33 L627.61 1175.02 L627.93 1178.79 L628.26 1182.62 L628.58 1186.49 L628.91 1190.38 L629.23 1194.28 L629.56 1198.18 L629.88 1202.04 L630.21 1205.86 L630.53 1209.63 L630.86 1213.31 L631.18 1216.91 L631.51 1220.4 L631.83 1223.76 L632.16 1226.99 L632.48 1230.07 L632.81 1232.99 L633.13 1235.73 L633.46 1238.28 L633.79 1240.64 L634.11 1242.78 L634.44 1244.7 L634.76 1246.4 L635.09 1247.87 L635.41 1249.09 L635.74 1250.07 L636.06 1250.8 L636.39 1251.27 L636.71 1251.49 L637.04 1251.46 L637.36 1251.16 L637.69 1250.62 L638.01 1249.82 L638.34 1248.77 L638.66 1247.48 L638.99 1245.95 L639.31 1244.19 L639.64 1242.2 L639.96 1240 L640.29 1237.59 L640.61 1234.98 L640.94 1232.19 L641.26 1229.23 L641.59 1226.1 L641.91 1222.83 L642.24 1219.43 L642.56 1215.91 L642.89 1212.29 L643.21 1208.58 L643.54 1204.8 L643.86 1200.96 L644.19 1197.09 L644.51 1193.19 L644.84 1189.29 L645.16 1185.4 L645.49 1181.54 L645.81 1177.73 L646.14 1173.98 L646.46 1170.31 L646.79 1166.73 L647.12 1163.26 L647.44 1159.91 L647.77 1156.7 L648.09 1153.65 L648.42 1150.76 L648.74 1148.05 L649.07 1145.53 L649.39 1143.21 L649.72 1141.1 L650.04 1139.21 L650.37 1137.55 L650.69 1136.12 L651.02 1134.94 L651.34 1134 L651.67 1133.31 L651.99 1132.88 L652.32 1132.7 L652.64 1132.77 L652.97 1133.11 L653.29 1133.69 L653.62 1134.53 L653.94 1135.62 L654.27 1136.95 L654.59 1138.52 L654.92 1140.32 L655.24 1142.34 L655.57 1144.57 L655.89 1147.02 L656.22 1149.65 L656.54 1152.47 L656.87 1155.46 L657.19 1158.61 L657.52 1161.9 L657.84 1165.32 L658.17 1168.86 L658.49 1172.5 L658.82 1176.22 L659.14 1180.01 L659.47 1183.86 L659.8 1187.73 L660.12 1191.63 L660.45 1195.53 L660.77 1199.42 L661.1 1203.27 L661.42 1207.07 L661.75 1210.81 L662.07 1214.47 L662.4 1218.04 L662.72 1221.49 L663.05 1224.81 L663.37 1228 L663.7 1231.03 L664.02 1233.89 L664.35 1236.57 L664.67 1239.06 L665 1241.34 L665.32 1243.42 L665.65 1245.27 L665.97 1246.9 L666.3 1248.28 L666.62 1249.43 L666.95 1250.33 L667.27 1250.98 L667.6 1251.37 L667.92 1251.51 L668.25 1251.39 L668.57 1251.02 L668.9 1250.39 L669.22 1249.51 L669.55 1248.39 L669.87 1247.02 L670.2 1245.41 L670.52 1243.58 L670.85 1241.52 L671.17 1239.25 L671.5 1236.77 L671.82 1234.11 L672.15 1231.26 L672.48 1228.25 L672.8 1225.07 L673.13 1221.76 L673.45 1218.32 L673.78 1214.76 L674.1 1211.11 L674.43 1207.38 L674.75 1203.58 L675.08 1199.73 L675.4 1195.84 L675.73 1191.94 L676.05 1188.05 L676.38 1184.17 L676.7 1180.32 L677.03 1176.52 L677.35 1172.79 L677.68 1169.15 L678 1165.6 L678.33 1162.17 L678.65 1158.87 L678.98 1155.71 L679.3 1152.7 L679.63 1149.87 L679.95 1147.22 L680.28 1144.76 L680.6 1142.51 L680.93 1140.47 L681.25 1138.65 L681.58 1137.07 L681.9 1135.72 L682.23 1134.61 L682.55 1133.75 L682.88 1133.14 L683.2 1132.79 L683.53 1132.69 L683.85 1132.85 L684.18 1133.27 L684.5 1133.93 L684.83 1134.85 L685.15 1136.02 L685.48 1137.42 L685.81 1139.07 L686.13 1140.94 L686.46 1143.03 L686.78 1145.33 L687.11 1147.84 L687.43 1150.54 L687.76 1153.41 L688.08 1156.45 L688.41 1159.65 L688.73 1162.98 L689.06 1166.44 L689.38 1170.02 L689.71 1173.68 L690.03 1177.43 L690.36 1181.24 L690.68 1185.09 L691.01 1188.98 L691.33 1192.88 L691.66 1196.78 L691.98 1200.65 L692.31 1204.49 L692.63 1208.28 L692.96 1211.99 L693.28 1215.63 L693.61 1219.15 L693.93 1222.57 L694.26 1225.85 L694.58 1228.98 L694.91 1231.96 L695.23 1234.77 L695.56 1237.39 L695.88 1239.81 L696.21 1242.03 L696.53 1244.04 L696.86 1245.82 L697.18 1247.37 L697.51 1248.68 L697.83 1249.75 L698.16 1250.56 L698.49 1251.13 L698.81 1251.44 L699.14 1251.5 L699.46 1251.3 L699.79 1250.84 L700.11 1250.14 L700.44 1249.18 L700.76 1247.97 L701.09 1246.53 L701.41 1244.85 L701.74 1242.94 L702.06 1240.81 L702.39 1238.48 L702.71 1235.94 L703.04 1233.22 L703.36 1230.31 L703.69 1227.25 L704.01 1224.03 L704.34 1220.67 L704.66 1217.19 L704.99 1213.6 L705.31 1209.92 L705.64 1206.17 L705.96 1202.35 L706.29 1198.49 L706.61 1194.6 L706.94 1190.7 L707.26 1186.8 L707.59 1182.93 L707.91 1179.1 L708.24 1175.32 L708.56 1171.62 L708.89 1168 L709.21 1164.49 L709.54 1161.1 L709.86 1157.84 L710.19 1154.73 L710.51 1151.78 L710.84 1149 L711.16 1146.41 L711.49 1144.02 L711.82 1141.83 L712.14 1139.86 L712.47 1138.12 L712.79 1136.61 L713.12 1135.33 L713.44 1134.31 L713.77 1133.53 L714.09 1133 L714.42 1132.73 L714.74 1132.72 L715.07 1132.96 L715.39 1133.45 L715.72 1134.2 L716.04 1135.2 L716.37 1136.44 L716.69 1137.92 L717.02 1139.64 L717.34 1141.58 L717.67 1143.75 L717.99 1146.11 L718.32 1148.68 L718.64 1151.44 L718.97 1154.37 L719.29 1157.46 L719.62 1160.7 L719.94 1164.08 L720.27 1167.58 L720.59 1171.18 L720.92 1174.87 L721.24 1178.64 L721.57 1182.47 L721.89 1186.34 L722.22 1190.23 L722.54 1194.13 L722.87 1198.02 L723.19 1201.89 L723.52 1205.71 L723.84 1209.48 L724.17 1213.17 L724.5 1216.77 L724.82 1220.26 L725.15 1223.63 L725.47 1226.87 L725.8 1229.95 L726.12 1232.88 L726.45 1235.62 L726.77 1238.18 L727.1 1240.55 L727.42 1242.7 L727.75 1244.63 L728.07 1246.34 L728.4 1247.81 L728.72 1249.05 L729.05 1250.03 L729.37 1250.77 L729.7 1251.26 L730.02 1251.49 L730.35 1251.46 L730.67 1251.18 L731 1250.65 L731.32 1249.86 L731.65 1248.82 L731.97 1247.54 L732.3 1246.02 L732.62 1244.26 L732.95 1242.28 L733.27 1240.09 L733.6 1237.69 L733.92 1235.09 L734.25 1232.31 L734.57 1229.35 L734.9 1226.23 L735.22 1222.97 L735.55 1219.57 L735.87 1216.05 L736.2 1212.44 L736.52 1208.73 L736.85 1204.95 L737.17 1201.12 L737.5 1197.24" stroke="#ff0000"/>
<path d="M477.4 1239.55 L477.73 1242.18 L478.05 1244.59 L478.38 1246.78 L478.7 1248.73 L479.03 1250.43 L479.35 1251.89 L479.68 1253.08 L480 1254.02 L480.33 1254.68 L480.65 1255.08 L480.98 1255.2 L481.3 1255.06 L481.63 1254.64 L481.95 1253.95 L482.28 1253 L482.6 1251.78 L482.93 1250.3 L483.25 1248.58 L483.58 1246.61 L483.9 1244.41 L484.23 1241.98 L484.55 1239.33 L484.88 1236.49 L485.2 1233.45 L485.53 1230.23 L485.85 1226.85 L486.18 1223.32 L486.5 1219.65 L486.83 1215.87 L487.15 1211.98 L487.48 1208.01 L487.8 1203.96 L488.13 1199.87 L488.45 1195.74 L488.78 1191.6 L489.1 1187.46 L489.43 1183.34 L489.75 1179.26 L490.08 1175.23 L490.4 1171.28 L490.73 1167.42 L491.06 1163.66 L491.38 1160.02 L491.71 1156.53 L492.03 1153.18 L492.36 1150.01 L492.68 1147.01 L493.01 1144.21 L493.33 1141.62 L493.66 1139.24 L493.98 1137.09 L494.31 1135.18 L494.63 1133.52 L494.96 1132.11 L495.28 1130.95 L495.61 1130.06 L495.93 1129.44 L496.26 1129.08 L496.58 1129 L496.91 1129.19 L497.23 1129.65 L497.56 1130.38 L497.88 1131.38 L498.21 1132.64 L498.53 1134.15 L498.86 1135.92 L499.18 1137.93 L499.51 1140.17 L499.83 1142.63 L500.16 1145.31 L500.48 1148.19 L500.81 1151.26 L501.13 1154.5 L501.46 1157.91 L501.78 1161.46 L502.11 1165.15 L502.43 1168.95 L502.76 1172.85 L503.08 1176.84 L503.41 1180.89 L503.74 1184.99 L504.06 1189.12 L504.39 1193.26 L504.71 1197.4 L505.04 1201.51 L505.36 1205.59 L505.69 1209.6 L506.01 1213.54 L506.34 1217.39 L506.66 1221.13 L506.99 1224.75 L507.31 1228.22 L507.64 1231.54 L507.96 1234.68 L508.29 1237.65 L508.61 1240.42 L508.94 1242.98 L509.26 1245.32 L509.59 1247.43 L509.91 1249.3 L510.24 1250.93 L510.56 1252.3 L510.89 1253.41 L511.21 1254.26 L511.54 1254.84 L511.86 1255.15 L512.19 1255.19 L512.51 1254.95 L512.84 1254.45 L513.16 1253.67 L513.49 1252.64 L513.81 1251.34 L514.14 1249.78 L514.46 1247.98 L514.79 1245.93 L515.11 1243.65 L515.44 1241.15 L515.76 1238.44 L516.09 1235.53 L516.41 1232.44 L516.74 1229.16 L517.07 1225.73 L517.39 1222.16 L517.72 1218.45 L518.04 1214.63 L518.37 1210.72 L518.69 1206.72 L519.02 1202.66 L519.34 1198.55 L519.67 1194.42 L519.99 1190.28 L520.32 1186.14 L520.64 1182.03 L520.97 1177.97 L521.29 1173.96 L521.62 1170.03 L521.94 1166.2 L522.27 1162.48 L522.59 1158.89 L522.92 1155.44 L523.24 1152.15 L523.57 1149.03 L523.89 1146.09 L524.22 1143.36 L524.54 1140.83 L524.87 1138.53 L525.19 1136.46 L525.52 1134.62 L525.84 1133.04 L526.17 1131.71 L526.49 1130.64 L526.82 1129.83 L527.14 1129.29 L527.47 1129.03 L527.79 1129.03 L528.12 1129.31 L528.44 1129.86 L528.77 1130.67 L529.09 1131.76 L529.42 1133.1 L529.75 1134.69 L530.07 1136.54 L530.4 1138.62 L530.72 1140.93 L531.05 1143.46 L531.37 1146.21 L531.7 1149.15 L532.02 1152.28 L532.35 1155.57 L532.67 1159.03 L533 1162.63 L533.32 1166.35 L533.65 1170.19 L533.97 1174.12 L534.3 1178.13 L534.62 1182.2 L534.95 1186.31 L535.27 1190.44 L535.6 1194.59 L535.92 1198.72 L536.25 1202.82 L536.57 1206.88 L536.9 1210.87 L537.22 1214.79 L537.55 1218.6 L537.87 1222.3 L538.2 1225.87 L538.52 1229.3 L538.85 1232.56 L539.17 1235.65 L539.5 1238.56 L539.82 1241.26 L540.15 1243.75 L540.47 1246.02 L540.8 1248.05 L541.12 1249.85 L541.45 1251.39 L541.77 1252.68 L542.1 1253.71 L542.42 1254.47 L542.75 1254.97 L543.08 1255.19 L543.4 1255.14 L543.73 1254.82 L544.05 1254.23 L544.38 1253.37 L544.7 1252.25 L545.03 1250.86 L545.35 1249.23 L545.68 1247.35 L546 1245.23 L546.33 1242.88 L546.65 1240.31 L546.98 1237.53 L547.3 1234.56 L547.63 1231.41 L547.95 1228.08 L548.28 1224.6 L548.6 1220.98 L548.93 1217.24 L549.25 1213.39 L549.58 1209.44 L549.9 1205.43 L550.23 1201.35 L550.55 1197.23 L550.88 1193.09 L551.2 1188.95 L551.53 1184.82 L551.85 1180.73 L552.18 1176.68 L552.5 1172.69 L552.83 1168.8 L553.15 1165 L553.48 1161.32 L553.8 1157.77 L554.13 1154.37 L554.45 1151.13 L554.78 1148.07 L555.1 1145.2 L555.43 1142.53 L555.76 1140.07 L556.08 1137.84 L556.41 1135.84 L556.73 1134.09 L557.06 1132.58 L557.38 1131.34 L557.71 1130.35 L558.03 1129.63 L558.36 1129.18 L558.68 1129 L559.01 1129.09 L559.33 1129.46 L559.66 1130.09 L559.98 1130.99 L560.31 1132.16 L560.63 1133.58 L560.96 1135.26 L561.28 1137.18 L561.61 1139.33 L561.93 1141.72 L562.26 1144.32 L562.58 1147.13 L562.91 1150.13 L563.23 1153.31 L563.56 1156.66 L563.88 1160.17 L564.21 1163.81 L564.53 1167.57 L564.86 1171.44 L565.18 1175.39 L565.51 1179.42 L565.83 1183.51 L566.16 1187.63 L566.48 1191.77 L566.81 1195.91 L567.13 1200.04 L567.46 1204.13 L567.78 1208.17 L568.11 1212.14 L568.43 1216.02 L568.76 1219.8 L569.09 1223.46 L569.41 1226.99 L569.74 1230.36 L570.06 1233.57 L570.39 1236.6 L570.71 1239.44 L571.04 1242.08 L571.36 1244.5 L571.69 1246.69 L572.01 1248.65 L572.34 1250.37 L572.66 1251.83 L572.99 1253.04 L573.31 1253.98 L573.64 1254.66 L573.96 1255.07 L574.29 1255.2 L574.61 1255.07 L574.94 1254.66 L575.26 1253.98 L575.59 1253.04 L575.91 1251.83 L576.24 1250.37 L576.56 1248.65 L576.89 1246.69 L577.21 1244.5 L577.54 1242.08 L577.86 1239.44 L578.19 1236.6 L578.51 1233.57 L578.84 1230.36 L579.16 1226.99 L579.49 1223.46 L579.81 1219.8 L580.14 1216.02 L580.46 1212.14 L580.79 1208.17 L581.11 1204.13 L581.44 1200.04 L581.77 1195.91 L582.09 1191.77 L582.42 1187.63 L582.74 1183.51 L583.07 1179.42 L583.39 1175.39 L583.72 1171.44 L584.04 1167.57 L584.37 1163.81 L584.69 1160.17 L585.02 1156.66 L585.34 1153.31 L585.67 1150.13 L585.99 1147.13 L586.32 1144.32 L586.64 1141.72 L586.97 1139.33 L587.29 1137.18 L587.62 1135.26 L587.94 1133.58 L588.27 1132.16 L588.59 1130.99 L588.92 1130.09 L589.24 1129.46 L589.57 1129.09 L589.89 1129 L590.22 1129.18 L590.54 1129.63 L590.87 1130.35 L591.19 1131.34 L591.52 1132.58 L591.84 1134.09 L592.17 1135.84 L592.49 1137.84 L592.82 1140.07 L593.14 1142.53 L593.47 1145.2 L593.79 1148.07 L594.12 1151.13 L594.44 1154.37 L594.77 1157.77 L595.1 1161.32 L595.42 1165 L595.75 1168.8 L596.07 1172.69 L596.4 1176.68 L596.72 1180.73 L597.05 1184.82 L597.37 1188.95 L597.7 1193.09 L598.02 1197.23 L598.35 1201.35 L598.67 1205.43 L599 1209.44 L599.32 1213.39 L599.65 1217.24 L599.97 1220.98 L600.3 1224.6 L600.62 1228.08 L600.95 1231.41 L601.27 1234.56 L601.6 1237.53 L601.92 1240.31 L602.25 1242.88 L602.57 1245.23 L602.9 1247.35 L603.22 1249.23 L603.55 1250.86 L603.87 1252.25 L604.2 1253.37 L604.52 1254.23 L604.85 1254.82 L605.17 1255.14 L605.5 1255.19 L605.82 1254.97 L606.15 1254.47 L606.47 1253.71 L606.8 1252.68 L607.12 1251.39 L607.45 1249.85 L607.78 1248.05 L608.1 1246.02 L608.43 1243.75 L608.75 1241.26 L609.08 1238.56 L609.4 1235.65 L609.73 1232.56 L610.05 1229.3 L610.38 1225.87 L610.7 1222.3 L611.03 1218.6 L611.35 1214.79 L611.68 1210.87 L612 1206.88 L612.33 1202.82 L612.65 1198.72 L612.98 1194.59 L613.3 1190.44 L613.63 1186.31 L613.95 1182.2 L614.28 1178.13 L614.6 1174.12 L614.93 1170.19 L615.25 1166.35 L615.58 1162.63 L615.9 1159.03 L616.23 1155.57 L616.55 1152.28 L616.88 1149.15 L617.2 1146.21 L617.53 1143.46 L617.85 1140.93 L618.18 1138.62 L618.5 1136.54 L618.83 1134.69 L619.15 1133.1 L619.48 1131.76 L619.8 1130.67 L620.13 1129.86 L620.45 1129.31 L620.78 1129.03 L621.11 1129.03 L621.43 1129.29 L621.76 1129.83 L622.08 1130.64 L622.41 1131.71 L622.73 1133.04 L623.06 1134.62 L623.38 1136.46 L623.71 1138.53 L624.03 1140.83 L624.36 1143.36 L624.68 1146.09 L625.01 1149.03 L625.33 1152.15 L625.66 1155.44 L625.98 1158.89 L626.31 1162.48 L626.63 1166.2 L626.96 1170.03 L627.28 1173.96 L627.61 1177.97 L627.93 1182.03 L628.26 1186.14 L628.58 1190.28 L628.91 1194.42 L629.23 1198.55 L629.56 1202.66 L629.88 1206.72 L630.21 1210.72 L630.53 1214.63 L630.86 1218.45 L631.18 1222.16 L631.51 1225.73 L631.83 1229.16 L632.16 1232.44 L632.48 1235.53 L632.81 1238.44 L633.13 1241.15 L633.46 1243.65 L633.79 1245.93 L634.11 1247.98 L634.44 1249.78 L634.76 1251.34 L635.09 1252.64 L635.41 1253.67 L635.74 1254.45 L636.06 1254.95 L636.39 1255.19 L636.71 1255.15 L637.04 1254.84 L637.36 1254.26 L637.69 1253.41 L638.01 1252.3 L638.34 1250.93 L638.66 1249.3 L638.99 1247.43 L639.31 1245.32 L639.64 1242.98 L639.96 1240.42 L640.29 1237.65 L640.61 1234.68 L640.94 1231.54 L641.26 1228.22 L641.59 1224.75 L641.91 1221.13 L642.24 1217.39 L642.56 1213.54 L642.89 1209.6 L643.21 1205.59 L643.54 1201.51 L643.86 1197.4 L644.19 1193.26 L644.51 1189.12 L644.84 1184.99 L645.16 1180.89 L645.49 1176.84 L645.81 1172.85 L646.14 1168.95 L646.46 1165.15 L646.79 1161.46 L647.12 1157.91 L647.44 1154.5 L647.77 1151.26 L648.09 1148.19 L648.42 1145.31 L648.74 1142.63 L649.07 1140.17 L649.39 1137.93 L649.72 1135.92 L650.04 1134.15 L650.37 1132.64 L650.69 1131.38 L651.02 1130.38 L651.34 1129.65 L651.67 1129.19 L651.99 1129 L652.32 1129.08 L652.64 1129.44 L652.97 1130.06 L653.29 1130.95 L653.62 1132.11 L653.94 1133.52 L654.27 1135.18 L654.59 1137.09 L654.92 1139.24 L655.24 1141.62 L655.57 1144.21 L655.89 1147.01 L656.22 1150.01 L656.54 1153.18 L656.87 1156.53 L657.19 1160.02 L657.52 1163.66 L657.84 1167.42 L658.17 1171.28 L658.49 1175.23 L658.82 1179.26 L659.14 1183.34 L659.47 1187.46 L659.8 1191.6 L660.12 1195.74 L660.45 1199.87 L660.77 1203.96 L661.1 1208.01 L661.42 1211.98 L661.75 1215.87 L662.07 1219.65 L662.4 1223.32 L662.72 1226.85 L663.05 1230.23 L663.37 1233.45 L663.7 1236.49 L664.02 1239.33 L664.35 1241.98 L664.67 1244.41 L665 1246.61 L665.32 1248.58 L665.65 1250.3 L665.97 1251.78 L666.3 1253 L666.62 1253.95 L666.95 1254.64 L667.27 1255.06 L667.6 1255.2 L667.92 1255.08 L668.25 1254.68 L668.57 1254.02 L668.9 1253.08 L669.22 1251.89 L669.55 1250.43 L669.87 1248.73 L670.2 1246.78 L670.52 1244.59 L670.85 1242.18 L671.17 1239.55 L671.5 1236.72 L671.82 1233.7 L672.15 1230.49 L672.48 1227.12 L672.8 1223.6 L673.13 1219.95 L673.45 1216.17 L673.78 1212.29 L674.1 1208.33 L674.43 1204.29 L674.75 1200.2 L675.08 1196.08 L675.4 1191.93 L675.73 1187.79 L676.05 1183.67 L676.38 1179.59 L676.7 1175.55 L677.03 1171.59 L677.35 1167.72 L677.68 1163.95 L678 1160.31 L678.33 1156.8 L678.65 1153.44 L678.98 1150.25 L679.3 1147.24 L679.63 1144.43 L679.95 1141.82 L680.28 1139.42 L680.6 1137.26 L680.93 1135.33 L681.25 1133.64 L681.58 1132.21 L681.9 1131.03 L682.23 1130.12 L682.55 1129.48 L682.88 1129.1 L683.2 1129 L683.53 1129.17 L683.85 1129.61 L684.18 1130.32 L684.5 1131.29 L684.83 1132.53 L685.15 1134.02 L685.48 1135.77 L685.81 1137.76 L686.13 1139.98 L686.46 1142.43 L686.78 1145.09 L687.11 1147.95 L687.43 1151 L687.76 1154.23 L688.08 1157.63 L688.41 1161.17 L688.73 1164.85 L689.06 1168.64 L689.38 1172.54 L689.71 1176.52 L690.03 1180.56 L690.36 1184.66 L690.68 1188.79 L691.01 1192.93 L691.33 1197.07 L691.66 1201.19 L691.98 1205.26 L692.31 1209.28 L692.63 1213.23 L692.96 1217.09 L693.28 1220.84 L693.61 1224.46 L693.93 1227.95 L694.26 1231.28 L694.58 1234.44 L694.91 1237.42 L695.23 1240.2 L695.56 1242.78 L695.88 1245.14 L696.21 1247.27 L696.53 1249.16 L696.86 1250.8 L697.18 1252.2 L697.51 1253.33 L697.83 1254.2 L698.16 1254.8 L698.49 1255.13 L698.81 1255.19 L699.14 1254.98 L699.46 1254.5 L699.79 1253.75 L700.11 1252.73 L700.44 1251.45 L700.76 1249.91 L701.09 1248.13 L701.41 1246.1 L701.74 1243.84 L702.06 1241.36 L702.39 1238.67 L702.71 1235.77 L703.04 1232.69 L703.36 1229.43 L703.69 1226.01 L704.01 1222.45 L704.34 1218.75 L704.66 1214.94 L704.99 1211.03 L705.31 1207.04 L705.64 1202.99 L705.96 1198.88 L706.29 1194.75 L706.61 1190.61 L706.94 1186.47 L707.26 1182.36 L707.59 1178.29 L707.91 1174.28 L708.24 1170.34 L708.56 1166.5 L708.89 1162.77 L709.21 1159.17 L709.54 1155.71 L709.86 1152.4 L710.19 1149.27 L710.51 1146.32 L710.84 1143.57 L711.16 1141.03 L711.49 1138.71 L711.82 1136.61 L712.14 1134.76 L712.47 1133.16 L712.79 1131.8 L713.12 1130.71 L713.44 1129.89 L713.77 1129.33 L714.09 1129.04 L714.42 1129.02 L714.74 1129.28 L715.07 1129.8 L715.39 1130.6 L715.72 1131.66 L716.04 1132.98 L716.37 1134.56 L716.69 1136.38 L717.02 1138.44 L717.34 1140.74 L717.67 1143.25 L717.99 1145.98 L718.32 1148.91 L718.64 1152.02 L718.97 1155.3 L719.29 1158.75 L719.62 1162.33 L719.94 1166.05 L720.27 1169.88 L720.59 1173.8 L720.92 1177.8 L721.24 1181.87 L721.57 1185.98 L721.89 1190.11 L722.22 1194.25 L722.54 1198.39 L722.87 1202.5 L723.19 1206.56 L723.52 1210.56 L723.84 1214.48 L724.17 1218.3 L724.5 1222.01 L724.82 1225.59 L725.15 1229.03 L725.47 1232.31 L725.8 1235.41 L726.12 1238.33 L726.45 1241.05 L726.77 1243.56 L727.1 1245.84 L727.42 1247.9 L727.75 1249.71 L728.07 1251.28 L728.4 1252.59 L728.72 1253.64 L729.05 1254.42 L729.37 1254.94 L729.7 1255.18 L730.02 1255.15 L730.35 1254.86 L730.67 1254.29 L731 1253.45 L731.32 1252.35 L731.65 1250.98 L731.97 1249.37 L732.3 1247.51 L732.62 1245.41 L732.95 1243.07 L733.27 1240.52 L733.6 1237.76 L733.92 1234.81 L734.25 1231.67 L734.57 1228.36 L734.9 1224.89 L735.22 1221.28 L735.55 1217.54 L735.87 1213.7 L736.2 1209.76 L736.52 1205.75 L736.85 1201.68 L737.17 1197.56 L737.5 1193.43" stroke="#0000ff"/>
</g>
<rect x="477.4" y="1047.2" width="260.1" height="289.8" fill="none" stroke="#000" stroke-width="2.3"/>
<path d="M477.4 1337v10M607.45 1337v10M737.5 1337v10M477.4 1337h-10M477.4 1192.1h-10M477.4 1047.2h-10" stroke="#000" stroke-width="2.3" fill="none"/>
<text x="477.4" y="1387.1" text-anchor="middle">0</text>
<text x="607.45" y="1387.1" text-anchor="middle">10</text>
<text x="737.5" y="1387.1" text-anchor="middle">20</text>
<text x="607.45" y="1029.3" text-anchor="middle" xml:space="preserve">(c)   LL</text>
<clipPath id="cs2"><rect x="828.4" y="1047.2" width="260.1" height="289.8"/></clipPath>
<g clip-path="url(#cs2)" fill="none" stroke-width="2.1" stroke-linejoin="round">
<path d="M828.4 1283.9H1088.5" stroke="#ff0000"/>
<path d="M828.4 1280.9H1088.5" stroke="#0000ff"/>
</g>
<rect x="828.4" y="1047.2" width="260.1" height="289.8" fill="none" stroke="#000" stroke-width="2.3"/>
<path d="M828.4 1337v10M958.45 1337v10M1088.5 1337v10M828.4 1337h-10M828.4 1192.1h-10M828.4 1047.2h-10" stroke="#000" stroke-width="2.3" fill="none"/>
<text x="828.4" y="1387.1" text-anchor="middle">0</text>
<text x="958.45" y="1387.1" text-anchor="middle">10</text>
<text x="1088.5" y="1387.1" text-anchor="middle">20</text>
<text x="958.45" y="1029.3" text-anchor="middle" xml:space="preserve">(d)   ST</text>
<text x="105.9" y="1062.4" text-anchor="end">2</text>
<text x="105.9" y="1207.3" text-anchor="end">0</text>
<text x="105.9" y="1352.2" text-anchor="end">-2</text>
<g transform="translate(42.2 1214.5) rotate(-90)"><text class="i" x="0" y="0">x</text><text x="26.8" y="10.7" style="font-size:28.2px">1</text><text class="i" x="28.8" y="-20.9" style="font-size:28.2px">j</text></g>
<text y="1445.6" xml:space="preserve"><tspan x="422.2">Time, </tspan><tspan class="i" x="546.9">t</tspan><tspan x="570.9">⟶</tspan></text>
</svg></body></html>
